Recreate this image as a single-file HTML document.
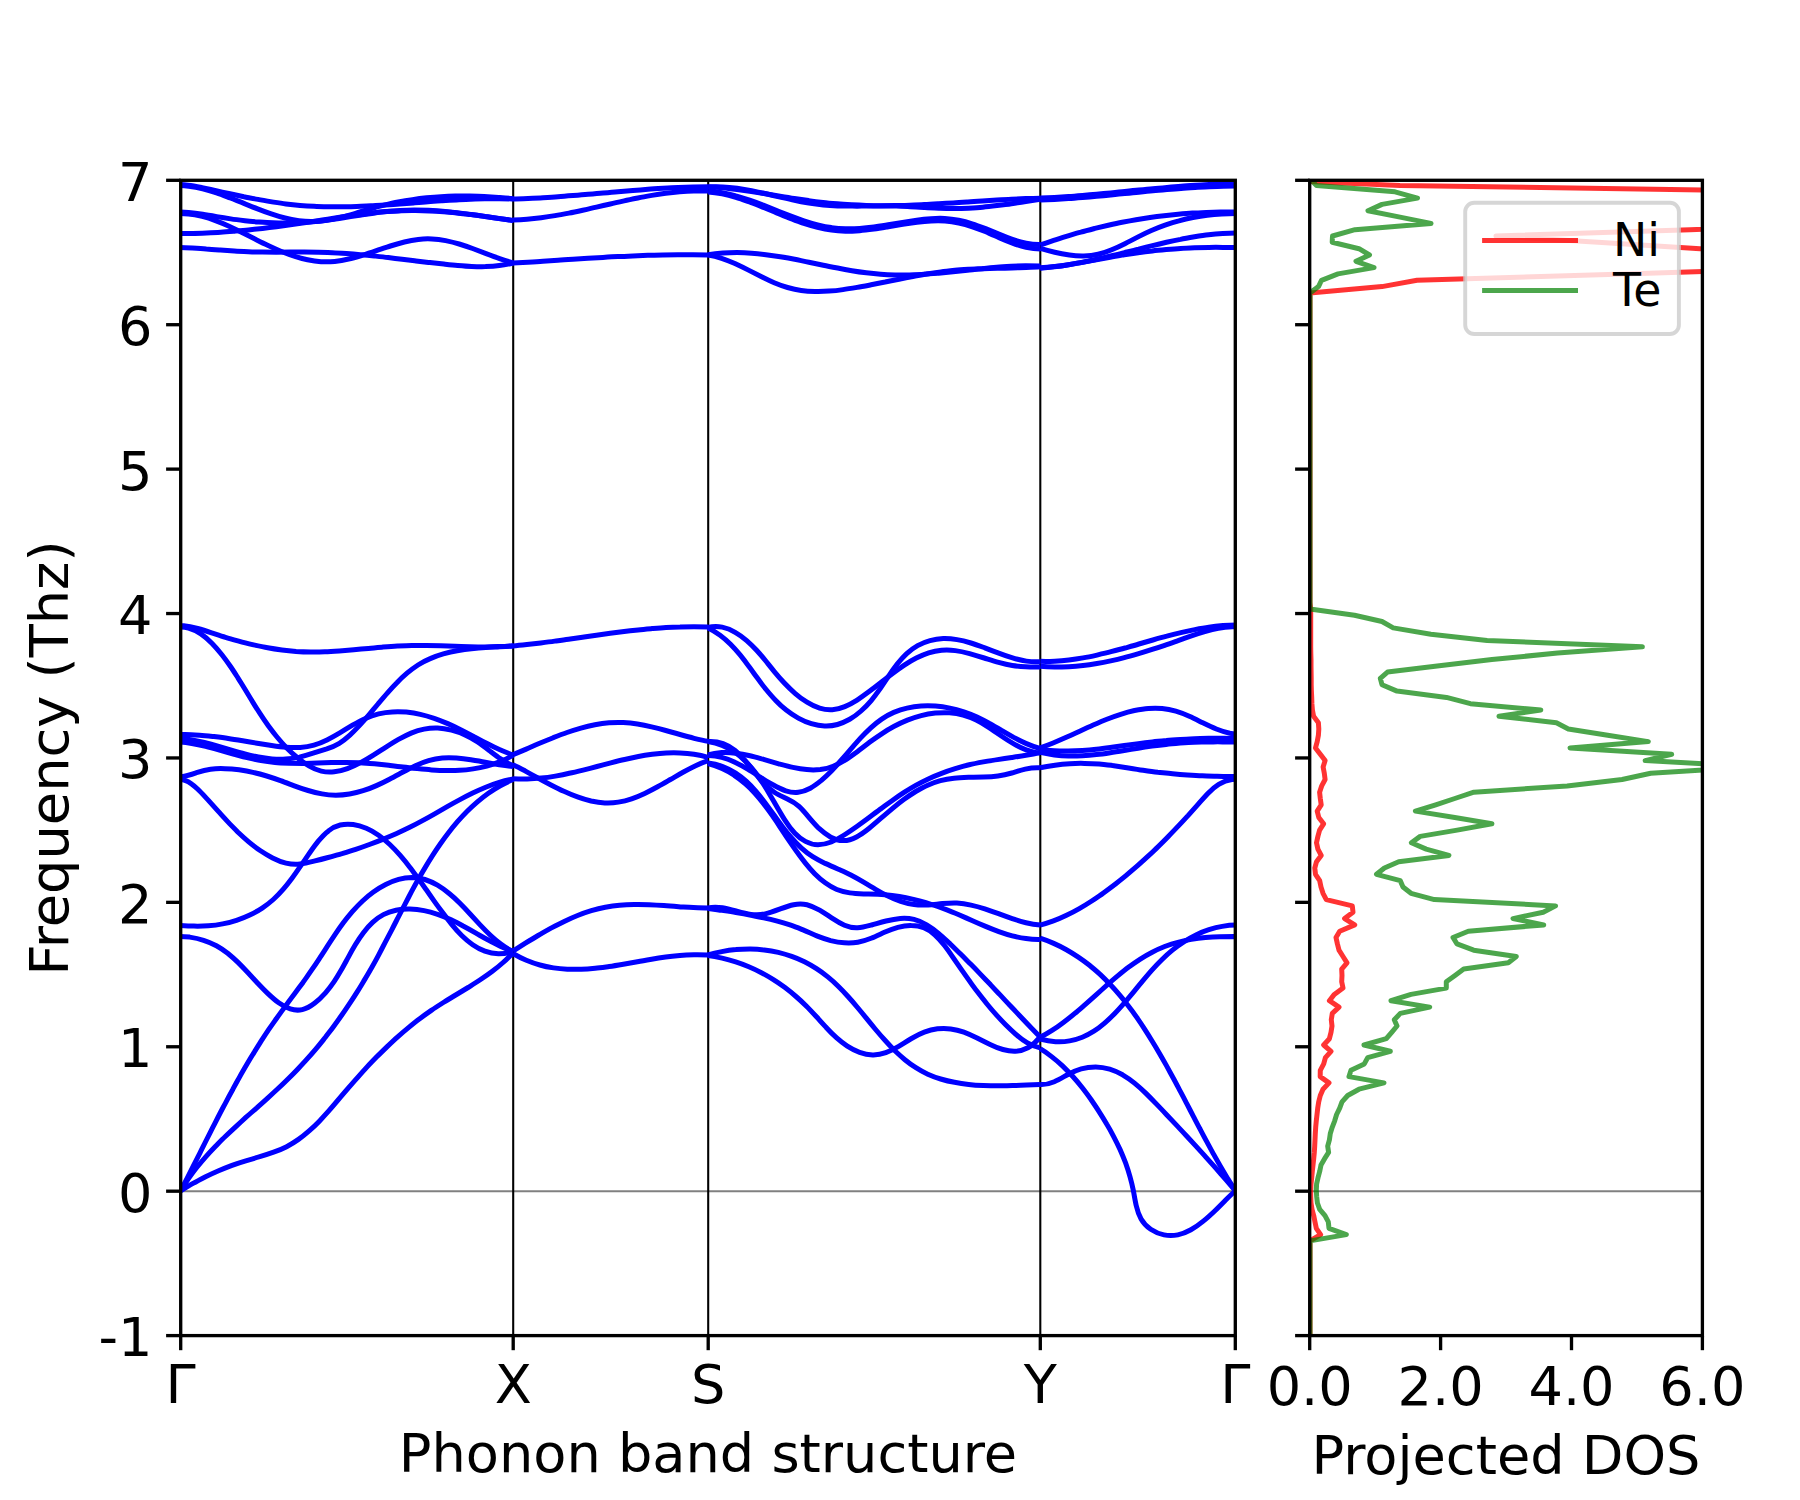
<!DOCTYPE html>
<html lang="en"><head><meta charset="utf-8"><title>Phonon band structure</title>
<style>html,body{margin:0;padding:0;background:#fff}body{width:1800px;height:1500px;overflow:hidden}svg text{white-space:pre}</style>
</head><body>
<svg width="1800" height="1500" viewBox="0 0 1800 1500" style="display:block">
<rect width="1800" height="1500" fill="#fff"/>
<defs>
<clipPath id="ca"><rect x="180.7" y="180.3" width="1054.6" height="1155.3"/></clipPath>
<clipPath id="cb"><rect x="1309.7" y="180.3" width="392.70000000000005" height="1155.3"/></clipPath>
</defs>
<g clip-path="url(#ca)" fill="none">
<line x1="180.7" x2="1235.3" y1="1191.19" y2="1191.19" stroke="#808080" stroke-width="2.08"/>
<line x1="513.2" x2="513.2" y1="180.3" y2="1335.6" stroke="#000" stroke-width="2.08"/>
<line x1="708.2" x2="708.2" y1="180.3" y2="1335.6" stroke="#000" stroke-width="2.08"/>
<line x1="1040.3" x2="1040.3" y1="180.3" y2="1335.6" stroke="#000" stroke-width="2.08"/>
<g stroke="#0000ff" stroke-width="5.0" stroke-linejoin="round" stroke-linecap="butt">
<path d="M146.3,189.3C151.0,187.5 155.7,186.2 160.4,185.4C165.1,184.6 169.7,184.3 174.4,184.3C179.0,184.3 183.6,184.7 188.3,185.3C192.9,185.8 197.5,186.7 202.2,187.6C206.8,188.5 211.4,189.6 216.1,190.6C220.7,191.7 225.3,192.7 230.0,193.7C234.6,194.7 239.2,195.7 243.9,196.7C248.6,197.6 253.2,198.6 257.9,199.4C262.5,200.3 267.2,201.1 271.9,201.9C276.6,202.6 281.2,203.3 285.9,203.9C290.6,204.5 295.3,205.0 300.0,205.4C304.7,205.8 309.4,206.1 314.1,206.3C318.9,206.6 323.6,206.7 328.3,206.8C333.0,206.8 337.8,206.8 342.5,206.8C347.2,206.7 352.0,206.6 356.7,206.4C361.5,206.3 366.2,206.0 370.9,205.8C375.7,205.5 380.4,205.3 385.2,204.9C390.0,204.6 394.7,204.3 399.5,203.9C404.2,203.6 409.0,203.2 413.7,202.9C418.5,202.5 423.2,202.1 428.0,201.8C432.7,201.4 437.5,201.1 442.2,200.8C447.0,200.4 451.7,200.1 456.5,199.9C461.2,199.6 466.0,199.4 470.7,199.2C475.4,199.0 480.2,198.8 484.9,198.8C489.6,198.7 494.3,198.6 499.1,198.7C503.8,198.7 508.5,198.8 513.2,199.0"/>
<path d="M146.2,191.3C151.0,189.4 155.8,187.9 160.6,187.0C165.3,186.0 170.1,185.5 174.8,185.4C179.5,185.3 184.1,185.6 188.8,186.2C193.4,186.8 198.1,187.7 202.7,188.9C207.3,190.0 211.9,191.4 216.5,192.9C221.1,194.5 225.6,196.2 230.2,197.9C234.8,199.7 239.3,201.6 243.9,203.4C248.4,205.3 253.0,207.1 257.6,208.9C262.1,210.7 266.7,212.4 271.3,213.9C275.9,215.5 280.4,216.9 285.0,218.0C289.6,219.2 294.3,220.1 298.9,220.8C303.5,221.4 308.2,221.7 312.9,221.6C317.6,221.6 322.3,221.1 327.0,220.3C331.7,219.6 336.5,218.5 341.3,217.3C346.0,216.1 350.8,214.7 355.5,213.3C360.3,211.9 365.1,210.4 369.8,209.0C374.6,207.6 379.3,206.3 384.0,205.1C388.7,204.0 393.5,202.9 398.2,202.0C402.9,201.1 407.6,200.3 412.4,199.6C417.1,198.9 421.8,198.3 426.6,197.8C431.4,197.3 436.1,196.9 440.9,196.7C445.7,196.4 450.5,196.2 455.3,196.1C460.1,196.0 464.9,196.0 469.7,196.1C474.6,196.2 479.4,196.3 484.2,196.5C489.0,196.8 493.9,197.1 498.7,197.4C503.5,197.8 508.4,198.2 513.2,198.7"/>
<path d="M146.4,215.0C151.1,213.8 155.8,213.0 160.5,212.5C165.1,212.0 169.8,211.8 174.5,211.8C179.2,211.9 183.9,212.1 188.6,212.6C193.3,213.0 198.0,213.6 202.7,214.3C207.3,215.0 212.0,215.8 216.7,216.6C221.4,217.4 226.1,218.1 230.8,218.9C235.5,219.6 240.2,220.2 244.9,220.8C249.6,221.3 254.3,221.7 259.0,222.1C263.7,222.4 268.4,222.7 273.1,222.8C277.9,223.0 282.6,223.0 287.3,223.0C292.0,222.9 296.7,222.8 301.4,222.5C306.1,222.2 310.8,221.9 315.5,221.4C320.2,221.0 324.9,220.4 329.6,219.7C334.3,219.1 339.0,218.4 343.7,217.7C348.4,217.0 353.1,216.2 357.8,215.5C362.5,214.8 367.2,214.0 371.9,213.4C376.6,212.7 381.3,212.1 386.0,211.6C390.7,211.1 395.4,210.6 400.1,210.4C404.9,210.1 409.6,209.9 414.3,209.9C419.0,209.9 423.7,210.0 428.4,210.2C433.1,210.5 437.8,210.8 442.6,211.2C447.3,211.6 452.0,212.1 456.7,212.7C461.4,213.2 466.1,213.9 470.8,214.5C475.5,215.1 480.3,215.8 485.0,216.5C489.7,217.2 494.4,217.9 499.1,218.6C503.8,219.2 508.5,219.9 513.2,220.5"/>
<path d="M136.2,231.2C141.0,231.7 145.7,232.1 150.4,232.4C155.1,232.7 159.8,233.0 164.4,233.2C169.1,233.3 173.8,233.5 178.5,233.5C183.2,233.5 187.9,233.5 192.6,233.4C197.2,233.4 201.9,233.2 206.6,233.0C211.3,232.8 215.9,232.6 220.6,232.3C225.3,232.0 229.9,231.6 234.6,231.2C239.2,230.8 243.9,230.4 248.5,229.9C253.2,229.4 257.9,228.9 262.5,228.4C267.1,227.8 271.8,227.3 276.4,226.7C281.1,226.1 285.7,225.4 290.4,224.8C295.0,224.1 299.6,223.5 304.3,222.8C308.9,222.1 313.5,221.4 318.1,220.7C322.8,219.9 327.4,219.2 332.0,218.5C336.7,217.8 341.3,217.0 345.9,216.3C350.5,215.7 355.2,215.0 359.8,214.4C364.4,213.8 369.0,213.2 373.7,212.7C378.3,212.2 382.9,211.8 387.6,211.5C392.2,211.2 396.9,210.9 401.5,210.7C406.2,210.6 410.8,210.5 415.5,210.6C420.1,210.6 424.8,210.7 429.4,210.9C434.1,211.1 438.7,211.4 443.4,211.8C448.1,212.1 452.7,212.6 457.4,213.0C462.0,213.5 466.7,214.0 471.4,214.6C476.0,215.2 480.7,215.8 485.3,216.5C490.0,217.1 494.6,217.8 499.3,218.5C503.9,219.2 508.6,219.9 513.2,220.6"/>
<path d="M145.9,219.6C150.7,217.8 155.4,216.4 160.2,215.4C164.9,214.4 169.7,213.8 174.4,213.6C179.1,213.4 183.8,213.5 188.4,214.0C193.1,214.4 197.6,215.3 202.1,216.4C206.6,217.5 211.0,218.9 215.4,220.6C219.8,222.2 224.2,224.0 228.5,226.0C232.8,228.0 237.2,230.1 241.5,232.3C245.8,234.4 250.2,236.6 254.5,238.8C258.9,241.0 263.2,243.2 267.6,245.2C272.0,247.3 276.4,249.3 280.8,251.2C285.2,253.0 289.6,254.7 294.1,256.1C298.5,257.6 303.0,258.8 307.5,259.8C312.0,260.7 316.5,261.4 321.0,261.7C325.6,262.0 330.1,261.9 334.7,261.4C339.3,260.9 343.9,260.1 348.6,259.0C353.2,258.0 357.8,256.6 362.5,255.2C367.1,253.8 371.8,252.2 376.4,250.6C381.1,249.0 385.8,247.5 390.4,246.0C395.1,244.5 399.7,243.2 404.4,242.0C409.0,240.9 413.6,240.0 418.2,239.4C422.9,238.8 427.4,238.6 432.0,238.9C436.6,239.1 441.1,239.7 445.6,240.6C450.1,241.5 454.7,242.6 459.2,244.0C463.6,245.4 468.1,246.9 472.6,248.5C477.1,250.2 481.6,251.9 486.1,253.6C490.6,255.3 495.1,257.0 499.6,258.6C504.1,260.1 508.7,261.6 513.2,262.8"/>
<path d="M136.4,250.0C141.1,249.2 145.7,248.6 150.4,248.2C155.1,247.8 159.7,247.5 164.4,247.4C169.0,247.3 173.7,247.3 178.4,247.4C183.0,247.6 187.7,247.8 192.3,248.0C197.0,248.3 201.7,248.6 206.3,249.0C211.0,249.3 215.6,249.7 220.3,250.1C225.0,250.4 229.6,250.8 234.3,251.1C239.0,251.4 243.6,251.6 248.3,251.8C253.0,252.0 257.7,252.1 262.3,252.1C267.0,252.2 271.7,252.2 276.3,252.2C281.0,252.2 285.7,252.2 290.4,252.1C295.0,252.1 299.7,252.1 304.4,252.1C309.1,252.1 313.7,252.2 318.4,252.3C323.1,252.3 327.7,252.5 332.4,252.7C337.0,252.9 341.7,253.2 346.4,253.5C351.0,253.9 355.7,254.3 360.3,254.7C365.0,255.1 369.6,255.6 374.3,256.0C378.9,256.5 383.6,257.0 388.2,257.6C392.8,258.1 397.5,258.7 402.1,259.2C406.8,259.8 411.4,260.3 416.0,260.9C420.7,261.5 425.3,262.0 429.9,262.6C434.6,263.1 439.2,263.6 443.8,264.1C448.5,264.6 453.1,265.1 457.7,265.5C462.3,265.9 467.0,266.3 471.6,266.4C476.2,266.6 480.8,266.7 485.5,266.6C490.1,266.4 494.7,266.1 499.3,265.5C504.0,265.0 508.6,264.1 513.2,263.0"/>
<path d="M141.3,635.3C145.9,632.6 150.6,630.4 155.4,628.8C160.1,627.2 164.8,626.2 169.5,625.7C174.3,625.2 179.0,625.2 183.7,625.8C188.3,626.3 193.0,627.3 197.7,628.5C202.3,629.8 207.0,631.3 211.6,632.8C216.2,634.3 220.9,635.9 225.5,637.3C230.2,638.8 234.9,640.1 239.5,641.4C244.2,642.7 248.9,643.8 253.6,644.9C258.3,645.9 263.0,646.9 267.7,647.7C272.4,648.6 277.2,649.3 281.9,649.9C286.6,650.5 291.4,651.0 296.1,651.4C300.9,651.7 305.7,651.9 310.5,652.0C315.3,652.1 320.1,652.0 324.9,651.8C329.7,651.6 334.5,651.3 339.3,651.0C344.2,650.6 349.0,650.2 353.8,649.8C358.7,649.3 363.5,648.9 368.4,648.4C373.2,647.9 378.1,647.5 382.9,647.1C387.7,646.7 392.6,646.3 397.4,646.0C402.3,645.8 407.1,645.6 411.9,645.5C416.7,645.4 421.6,645.4 426.4,645.5C431.2,645.6 436.0,645.7 440.8,645.8C445.6,646.0 450.4,646.1 455.2,646.3C460.0,646.5 464.9,646.6 469.7,646.7C474.5,646.8 479.3,646.9 484.1,646.9C489.0,646.9 493.8,646.8 498.6,646.6C503.5,646.4 508.3,646.1 513.2,645.7"/>
<path d="M141.5,653.4C143.9,649.4 146.9,645.5 150.4,641.9C153.8,638.3 157.8,635.0 162.0,632.5C166.2,630.0 170.6,628.2 175.1,627.5C179.6,626.7 184.1,626.9 188.5,628.0C192.8,629.2 197.0,631.2 200.9,633.9C204.9,636.6 208.6,639.9 212.1,643.5C215.6,647.1 218.9,651.0 221.9,654.8C224.9,658.7 227.8,662.6 230.5,666.5C233.2,670.4 235.7,674.4 238.2,678.3C240.7,682.3 243.1,686.3 245.6,690.3C248.0,694.3 250.4,698.3 252.9,702.3C255.3,706.3 257.8,710.2 260.4,714.2C262.9,718.1 265.6,722.0 268.3,725.8C271.1,729.6 273.9,733.3 277.0,737.0C280.0,740.6 283.1,744.2 286.5,747.7C289.9,751.1 293.4,754.4 297.2,757.5C300.9,760.7 304.8,763.6 308.9,765.9C312.9,768.3 317.1,770.1 321.3,771.1C325.6,772.1 329.9,772.3 334.2,771.8C338.6,771.3 343.0,770.2 347.4,768.6C351.8,767.0 356.2,765.0 360.5,762.6C364.9,760.3 369.2,757.8 373.4,755.1C377.7,752.5 381.8,749.7 386.0,747.1C390.2,744.4 394.3,741.8 398.5,739.4C402.7,737.1 406.9,734.9 411.1,733.1C415.4,731.3 419.7,729.9 424.1,729.1C428.6,728.2 433.1,727.8 437.7,728.0C442.3,728.2 446.9,729.0 451.5,730.1C456.1,731.3 460.6,732.9 465.0,734.9C469.4,736.9 473.6,739.2 477.6,741.9C481.6,744.6 485.4,747.5 489.2,750.4C493.0,753.3 496.8,756.3 500.7,758.9C504.6,761.5 508.7,763.8 513.2,765.5"/>
<path d="M156.5,736.1C161.3,735.4 166.1,735.0 170.9,734.7C175.6,734.5 180.4,734.4 185.2,734.5C190.0,734.6 194.8,734.9 199.6,735.2C204.4,735.6 209.1,736.1 213.9,736.6C218.7,737.2 223.5,737.8 228.3,738.5C233.1,739.2 237.9,740.0 242.7,740.8C247.5,741.6 252.3,742.4 257.1,743.2C261.9,744.0 266.8,744.8 271.6,745.5C276.4,746.2 281.2,746.9 286.0,747.2C290.8,747.6 295.5,747.7 300.2,747.5C304.8,747.2 309.4,746.5 313.9,745.2C318.3,743.9 322.7,742.1 327.0,740.0C331.3,737.8 335.6,735.4 339.8,732.9C344.0,730.3 348.3,727.7 352.5,725.2C356.7,722.8 361.0,720.4 365.4,718.5C369.7,716.5 374.1,715.0 378.6,713.9C383.1,712.8 387.7,712.1 392.3,711.9C396.9,711.6 401.6,711.7 406.3,712.1C410.9,712.6 415.6,713.3 420.3,714.4C424.9,715.4 429.6,716.8 434.2,718.3C438.8,719.9 443.3,721.7 447.8,723.6C452.3,725.6 456.7,727.7 461.1,729.9C465.5,732.2 469.8,734.5 474.1,736.8C478.5,739.0 482.8,741.3 487.1,743.5C491.4,745.8 495.7,747.9 500.0,749.8C504.4,751.7 508.8,753.5 513.2,755.0"/>
<path d="M136.0,747.5C140.7,745.0 145.3,743.1 149.9,741.7C154.5,740.2 159.1,739.3 163.6,738.8C168.2,738.2 172.7,738.1 177.3,738.3C181.8,738.5 186.4,739.0 190.9,739.7C195.4,740.4 199.9,741.4 204.4,742.5C208.9,743.6 213.4,744.8 217.9,746.1C222.4,747.4 226.9,748.8 231.4,750.1C235.9,751.4 240.4,752.7 244.9,753.9C249.4,755.1 253.9,756.2 258.5,757.0C263.0,757.9 267.5,758.5 272.0,758.9C276.6,759.3 281.1,759.4 285.7,759.1C290.2,758.8 294.8,758.1 299.4,757.1C303.9,756.0 308.5,754.6 313.1,753.1C317.7,751.7 322.3,750.3 326.8,748.9C331.3,747.4 335.5,745.6 339.3,743.3C343.1,740.9 346.6,738.1 349.9,735.1C353.2,732.1 356.4,728.8 359.6,725.4C362.7,722.0 365.8,718.5 368.9,714.9C371.9,711.3 375.0,707.6 378.0,704.0C381.1,700.3 384.1,696.7 387.3,693.1C390.4,689.5 393.6,686.0 396.9,682.7C400.1,679.3 403.5,676.2 407.0,673.2C410.5,670.2 414.2,667.5 418.0,665.0C421.9,662.5 425.9,660.4 430.2,658.6C434.4,656.7 438.8,655.2 443.3,653.9C447.8,652.7 452.5,651.6 457.2,650.8C461.9,650.0 466.7,649.3 471.5,648.8C476.3,648.3 481.1,647.9 485.8,647.6C490.5,647.2 495.2,647.0 499.8,646.7C504.4,646.5 508.9,646.3 513.2,646.0"/>
<path d="M136.2,751.5C140.9,748.8 145.5,746.7 150.2,745.2C154.8,743.7 159.5,742.7 164.1,742.2C168.7,741.6 173.3,741.6 178.0,741.8C182.6,742.1 187.2,742.7 191.8,743.5C196.4,744.3 201.0,745.3 205.6,746.4C210.3,747.5 214.9,748.8 219.5,750.1C224.1,751.4 228.7,752.7 233.3,754.0C237.9,755.2 242.5,756.5 247.1,757.6C251.8,758.7 256.4,759.8 261.0,760.6C265.7,761.4 270.3,762.0 275.0,762.5C279.6,762.9 284.3,763.1 289.0,763.3C293.7,763.4 298.4,763.4 303.1,763.4C307.8,763.3 312.5,763.2 317.3,763.0C322.0,762.9 326.7,762.7 331.5,762.6C336.2,762.5 341.0,762.4 345.7,762.4C350.5,762.4 355.2,762.5 360.0,762.8C364.8,763.0 369.6,763.4 374.4,763.8C379.1,764.3 383.9,764.8 388.7,765.3C393.5,765.9 398.2,766.5 403.0,767.0C407.8,767.6 412.5,768.1 417.3,768.6C422.0,769.1 426.7,769.6 431.5,769.9C436.2,770.2 440.9,770.5 445.5,770.5C450.2,770.6 454.8,770.6 459.5,770.3C464.1,770.1 468.7,769.6 473.2,768.9C477.8,768.2 482.3,767.3 486.8,766.1C491.3,764.9 495.7,763.5 500.1,761.6C504.5,759.8 508.9,757.7 513.2,755.2"/>
<path d="M141.4,768.3C146.4,767.3 151.2,768.1 155.8,769.4C160.5,770.8 165.1,772.8 169.6,774.3C174.1,775.8 178.5,776.8 183.0,776.4C187.4,775.9 191.9,774.3 196.5,772.7C201.1,771.1 205.8,769.7 210.6,769.2C215.4,768.6 220.2,768.5 225.0,768.7C229.7,768.8 234.4,769.2 239.1,769.8C243.7,770.5 248.3,771.3 252.9,772.4C257.5,773.4 262.1,774.6 266.7,776.0C271.3,777.4 275.9,779.0 280.5,780.7C285.1,782.3 289.7,784.1 294.3,785.8C298.9,787.5 303.5,789.1 308.1,790.5C312.7,791.9 317.4,793.1 322.0,793.9C326.6,794.8 331.2,795.2 335.8,795.2C340.4,795.2 344.9,794.8 349.5,794.0C354.0,793.2 358.6,792.1 363.1,790.7C367.5,789.3 372.0,787.6 376.4,785.6C380.8,783.7 385.2,781.5 389.5,779.2C393.9,777.0 398.2,774.6 402.5,772.3C406.8,770.0 411.1,767.7 415.4,765.7C419.8,763.7 424.2,762.0 428.6,760.7C433.1,759.4 437.7,758.5 442.3,758.1C447.0,757.7 451.7,757.8 456.5,758.1C461.2,758.4 466.0,759.0 470.8,759.8C475.7,760.6 480.5,761.4 485.2,762.3C490.0,763.2 494.8,764.1 499.4,764.9C504.1,765.6 508.7,766.2 513.2,766.5"/>
<path d="M141.4,813.1C144.4,811.5 147.6,808.1 151.0,804.0C154.4,799.9 158.1,795.1 161.8,790.9C165.6,786.7 169.5,783.0 173.5,781.1C177.5,779.2 181.6,779.1 185.6,780.6C189.6,782.1 193.5,785.2 197.3,788.8C201.1,792.3 204.7,796.4 208.2,800.1C211.6,803.9 214.9,807.6 218.1,811.2C221.4,814.8 224.6,818.4 227.9,821.9C231.2,825.4 234.6,828.8 238.0,832.2C241.5,835.5 245.0,838.7 248.7,841.8C252.4,844.9 256.2,847.8 260.1,850.5C264.1,853.2 268.3,855.7 272.6,857.9C276.9,860.1 281.4,862.0 286.0,863.1C290.6,864.2 295.3,864.6 300.0,864.0C304.6,863.5 309.4,862.3 314.0,861.1C318.7,860.0 323.4,858.8 328.1,857.5C332.7,856.3 337.3,854.9 342.0,853.6C346.6,852.2 351.2,850.8 355.7,849.3C360.3,847.8 364.9,846.2 369.4,844.5C373.9,842.9 378.4,841.2 382.8,839.4C387.3,837.6 391.7,835.7 396.1,833.8C400.5,831.8 404.9,829.7 409.2,827.6C413.5,825.5 417.8,823.2 422.0,820.9C426.2,818.6 430.5,816.2 434.7,813.8C438.8,811.4 443.0,809.0 447.2,806.6C451.4,804.2 455.6,801.9 459.9,799.6C464.1,797.3 468.4,795.1 472.7,793.0C477.0,790.9 481.3,789.0 485.7,787.2C490.2,785.4 494.6,783.8 499.2,782.4C503.8,781.0 508.4,779.9 513.2,779.0"/>
<path d="M180.7,1190.8C183.1,1186.7 185.6,1182.7 188.3,1178.8C191.0,1175.0 193.8,1171.2 196.7,1167.5C199.6,1163.9 202.6,1160.3 205.7,1156.8C208.8,1153.2 212.0,1149.8 215.3,1146.4C218.6,1143.1 221.9,1139.7 225.3,1136.5C228.7,1133.2 232.1,1130.0 235.6,1126.8C239.1,1123.6 242.6,1120.4 246.1,1117.2C249.7,1114.1 253.2,1110.9 256.8,1107.8C260.3,1104.6 263.9,1101.5 267.4,1098.3C270.9,1095.2 274.4,1092.0 277.8,1088.8C281.3,1085.6 284.7,1082.3 288.0,1079.0C291.4,1075.7 294.7,1072.4 297.9,1069.0C301.1,1065.6 304.3,1062.2 307.4,1058.7C310.5,1055.2 313.6,1051.7 316.6,1048.1C319.6,1044.6 322.5,1040.9 325.4,1037.3C328.2,1033.6 331.1,1029.9 333.8,1026.2C336.6,1022.4 339.3,1018.6 342.0,1014.8C344.7,1011.0 347.3,1007.1 349.9,1003.2C352.5,999.3 355.0,995.4 357.5,991.4C360.0,987.5 362.4,983.4 364.8,979.4C367.2,975.4 369.5,971.3 371.9,967.2C374.2,963.1 376.5,959.0 378.7,954.8C380.9,950.6 383.1,946.4 385.3,942.2C387.5,938.0 389.7,933.8 391.9,929.6C394.0,925.4 396.2,921.2 398.4,916.9C400.5,912.7 402.7,908.5 404.9,904.3C407.1,900.1 409.3,895.9 411.5,891.7C413.7,887.6 416.0,883.4 418.3,879.3C420.6,875.2 423.0,871.1 425.4,867.1C427.8,863.0 430.3,859.0 432.8,855.1C435.3,851.2 437.9,847.3 440.6,843.5C443.3,839.6 446.0,835.9 448.9,832.2C451.7,828.5 454.7,824.9 457.7,821.4C460.8,817.9 463.9,814.5 467.2,811.2C470.5,807.9 473.9,804.8 477.4,801.8C480.9,798.8 484.6,795.9 488.4,793.2C492.2,790.6 496.2,788.1 500.3,785.8C504.4,783.5 508.7,781.4 513.2,779.5"/>
<path d="M136.4,924.8C141.2,924.3 145.9,924.1 150.7,924.1C155.5,924.1 160.2,924.2 165.0,924.5C169.8,924.8 174.7,925.1 179.5,925.4C184.3,925.7 189.1,926.0 193.9,926.1C198.7,926.2 203.5,926.1 208.3,925.8C213.1,925.5 217.9,924.9 222.6,923.9C227.3,923.0 232.0,921.8 236.5,920.3C241.1,918.8 245.5,917.1 249.8,915.0C254.1,913.0 258.3,910.7 262.2,908.1C266.1,905.5 269.8,902.6 273.3,899.5C276.7,896.4 280.0,893.0 283.1,889.4C286.2,885.8 289.1,882.1 292.0,878.2C294.9,874.3 297.7,870.2 300.5,866.1C303.4,862.0 306.2,857.8 309.1,853.6C312.1,849.4 315.1,845.1 318.3,841.2C321.5,837.3 324.8,833.7 328.5,830.9C332.1,828.0 336.0,826.0 340.2,825.0C344.4,824.0 348.8,823.9 353.2,824.5C357.7,825.1 362.1,826.5 366.3,828.3C370.6,830.1 374.7,832.5 378.6,835.3C382.5,838.0 386.2,841.2 389.8,844.5C393.4,847.9 396.9,851.6 400.2,855.4C403.4,859.1 406.6,863.0 409.6,866.9C412.6,870.8 415.4,874.7 418.2,878.5C421.0,882.3 423.6,886.0 426.3,889.8C428.9,893.6 431.5,897.3 434.2,901.1C436.9,904.9 439.7,908.7 442.6,912.6C445.5,916.5 448.5,920.4 451.7,924.3C454.8,928.2 458.2,931.9 461.7,935.4C465.2,938.8 468.9,942.0 472.7,944.7C476.6,947.4 480.7,949.6 484.9,951.2C489.2,952.8 493.6,953.7 498.3,953.8C503.0,953.9 507.9,953.2 513.0,951.5"/>
<path d="M136.8,952.6C140.1,949.2 143.9,946.4 148.0,944.1C152.1,941.9 156.5,940.1 161.1,938.9C165.6,937.7 170.4,936.9 175.2,936.6C180.0,936.3 184.9,936.5 189.7,937.1C194.4,937.8 199.1,938.8 203.6,940.3C208.1,941.7 212.4,943.6 216.4,945.8C220.4,948.0 224.1,950.5 227.7,953.3C231.2,956.2 234.7,959.2 238.0,962.4C241.3,965.7 244.5,969.0 247.8,972.5C251.0,976.0 254.2,979.5 257.5,983.0C260.8,986.5 264.2,990.0 267.7,993.4C271.3,996.8 274.9,1000.1 278.7,1002.8C282.5,1005.5 286.3,1007.6 290.3,1008.9C294.2,1010.2 298.3,1010.5 302.3,1009.6C306.4,1008.7 310.6,1006.3 314.5,1003.3C318.5,1000.3 322.2,996.6 325.5,992.9C328.7,989.2 331.5,985.5 334.1,981.7C336.6,978.0 338.9,974.1 341.2,970.1C343.5,966.1 345.8,961.8 348.1,957.6C350.4,953.3 352.8,949.0 355.3,944.8C357.9,940.6 360.5,936.6 363.4,932.8C366.2,929.0 369.3,925.4 372.6,922.4C375.9,919.3 379.5,916.6 383.4,914.6C387.3,912.5 391.6,911.1 396.0,910.2C400.5,909.3 405.2,909.0 409.9,909.1C414.6,909.2 419.4,909.7 424.1,910.6C428.7,911.5 433.2,912.8 437.6,914.3C442.0,915.8 446.3,917.6 450.6,919.6C454.8,921.6 459.0,923.7 463.1,926.0C467.3,928.2 471.4,930.5 475.5,932.9C479.6,935.2 483.6,937.5 487.8,939.8C491.9,942.0 496.0,944.2 500.2,946.2C504.4,948.1 508.7,949.9 513.0,951.5"/>
<path d="M180.7,1190.8C182.9,1186.6 185.0,1182.4 187.2,1178.2C189.3,1174.0 191.4,1169.8 193.6,1165.5C195.7,1161.3 197.9,1157.0 200.0,1152.8C202.1,1148.5 204.3,1144.3 206.4,1140.0C208.6,1135.7 210.7,1131.5 212.9,1127.2C215.1,1123.0 217.2,1118.7 219.4,1114.5C221.6,1110.2 223.9,1106.0 226.1,1101.8C228.3,1097.5 230.6,1093.3 232.9,1089.2C235.1,1085.0 237.5,1080.8 239.8,1076.6C242.1,1072.5 244.5,1068.4 246.9,1064.3C249.3,1060.2 251.8,1056.1 254.3,1052.1C256.7,1048.0 259.3,1044.0 261.8,1040.0C264.4,1036.1 267.0,1032.1 269.7,1028.2C272.3,1024.3 275.1,1020.5 277.8,1016.6C280.6,1012.8 283.3,1009.0 286.1,1005.2C288.9,1001.4 291.7,997.6 294.6,993.8C297.4,990.0 300.2,986.2 303.0,982.4C305.7,978.5 308.5,974.7 311.2,970.7C313.9,966.8 316.6,962.8 319.2,958.8C321.9,954.8 324.5,950.7 327.1,946.7C329.7,942.6 332.3,938.6 335.0,934.6C337.7,930.6 340.5,926.6 343.3,922.8C346.2,918.9 349.2,915.2 352.3,911.6C355.5,908.0 358.8,904.5 362.3,901.2C365.8,897.9 369.5,894.8 373.4,892.0C377.4,889.2 381.5,886.6 385.7,884.5C389.9,882.4 394.2,880.6 398.6,879.4C403.0,878.2 407.4,877.6 411.8,877.5C416.2,877.5 420.6,878.2 424.9,879.5C429.2,880.9 433.4,882.8 437.5,885.2C441.5,887.6 445.4,890.4 449.2,893.5C452.9,896.5 456.5,899.8 459.9,903.3C463.4,906.8 466.8,910.4 470.1,914.0C473.5,917.7 476.8,921.3 480.1,924.9C483.5,928.5 486.9,932.0 490.4,935.3C493.8,938.5 497.4,941.6 501.2,944.3C504.9,947.1 508.8,949.5 513.0,951.5"/>
<path d="M180.7,1190.8C184.8,1188.3 188.9,1185.8 193.0,1183.4C197.2,1181.1 201.4,1178.9 205.6,1176.7C209.9,1174.6 214.2,1172.6 218.6,1170.7C223.0,1168.8 227.5,1167.0 232.0,1165.3C236.5,1163.7 241.1,1162.2 245.8,1160.8C250.5,1159.4 255.2,1158.0 259.8,1156.7C264.5,1155.3 269.1,1153.8 273.6,1152.2C278.1,1150.6 282.5,1148.8 286.6,1146.7C290.8,1144.5 294.7,1142.1 298.5,1139.4C302.3,1136.8 305.9,1133.8 309.4,1130.7C312.9,1127.6 316.3,1124.3 319.6,1120.9C322.8,1117.5 326.0,1114.0 329.2,1110.4C332.4,1106.8 335.5,1103.1 338.6,1099.4C341.7,1095.7 344.8,1092.1 348.0,1088.4C351.1,1084.8 354.3,1081.1 357.5,1077.6C360.7,1074.0 363.9,1070.4 367.1,1066.9C370.4,1063.4 373.7,1060.0 377.0,1056.6C380.4,1053.2 383.8,1049.9 387.2,1046.6C390.7,1043.3 394.1,1040.1 397.7,1036.9C401.2,1033.7 404.8,1030.6 408.5,1027.6C412.2,1024.6 415.9,1021.6 419.7,1018.8C423.5,1015.9 427.4,1013.1 431.3,1010.4C435.2,1007.7 439.3,1005.1 443.4,1002.5C447.4,1000.0 451.6,997.5 455.7,995.0C459.8,992.5 464.0,990.0 468.1,987.5C472.2,984.9 476.2,982.4 480.2,979.7C484.2,977.1 488.2,974.4 492.0,971.5C495.8,968.7 499.5,965.7 503.1,962.5C506.6,959.4 510.0,956.0 513.2,952.5"/>
<path d="M512.9,198.9C517.9,198.8 523.0,198.6 528.0,198.4C533.0,198.2 538.0,198.0 543.0,197.7C548.0,197.4 553.0,197.1 558.0,196.7C563.0,196.4 568.0,196.0 573.0,195.6C578.0,195.2 583.0,194.8 588.0,194.3C593.0,193.9 598.0,193.5 603.0,193.0C608.0,192.6 613.0,192.2 618.0,191.7C622.9,191.3 627.9,190.9 632.9,190.5C637.9,190.1 642.9,189.7 647.9,189.3C652.9,188.9 657.9,188.6 662.9,188.3C667.9,188.0 672.9,187.7 677.9,187.5C682.9,187.3 688.0,187.1 693.0,186.9C698.0,186.8 703.0,186.7 708.0,186.7"/>
<path d="M512.9,219.9C517.7,219.8 522.4,219.6 527.0,219.2C531.7,218.8 536.4,218.3 541.1,217.7C545.7,217.1 550.4,216.4 555.0,215.6C559.6,214.9 564.3,214.0 568.9,213.1C573.5,212.2 578.1,211.2 582.7,210.2C587.3,209.2 591.9,208.2 596.5,207.1C601.1,206.1 605.7,205.0 610.3,204.0C614.9,202.9 619.5,201.9 624.1,200.9C628.7,199.8 633.3,198.9 637.9,198.0C642.5,197.0 647.1,196.2 651.8,195.4C656.4,194.6 661.0,193.9 665.7,193.3C670.4,192.7 675.0,192.2 679.7,191.8C684.4,191.4 689.1,191.1 693.8,191.0C698.5,190.9 703.3,190.9 708.0,191.1"/>
<path d="M512.9,263.1C517.9,262.8 522.9,262.5 527.9,262.2C532.9,261.9 537.9,261.6 542.9,261.2C547.9,260.9 552.9,260.6 557.9,260.3C562.9,259.9 567.9,259.6 572.9,259.3C577.9,259.0 582.9,258.6 587.9,258.3C592.9,258.0 597.9,257.7 602.9,257.4C607.9,257.1 612.9,256.8 617.9,256.6C622.9,256.3 627.9,256.1 632.9,255.9C637.9,255.7 642.9,255.5 647.9,255.3C652.9,255.1 657.9,255.0 662.9,254.9C667.9,254.8 672.9,254.7 677.9,254.7C683.0,254.6 688.0,254.6 693.0,254.7C698.0,254.7 703.0,254.8 708.0,254.9"/>
<path d="M513.0,646.0C517.6,645.6 522.3,645.1 526.9,644.6C531.6,644.1 536.2,643.5 540.8,643.0C545.5,642.4 550.1,641.8 554.7,641.1C559.3,640.5 564.0,639.9 568.6,639.2C573.2,638.5 577.8,637.9 582.5,637.2C587.1,636.5 591.7,635.9 596.4,635.2C601.0,634.6 605.6,633.9 610.2,633.3C614.9,632.7 619.5,632.1 624.1,631.5C628.8,630.9 633.4,630.4 638.1,629.9C642.7,629.4 647.4,629.0 652.0,628.6C656.7,628.2 661.3,627.8 666.0,627.5C670.6,627.2 675.3,627.0 680.0,626.9C684.6,626.7 689.3,626.7 694.0,626.7C698.7,626.7 703.4,626.8 708.1,626.9"/>
<path d="M513.0,754.7C517.4,752.9 521.8,751.0 526.2,749.1C530.6,747.2 535.1,745.2 539.6,743.3C544.1,741.4 548.7,739.5 553.2,737.7C557.8,735.9 562.4,734.1 567.0,732.5C571.6,730.9 576.3,729.4 580.9,728.1C585.6,726.8 590.2,725.7 594.9,724.8C599.6,723.9 604.3,723.2 609.0,722.8C613.7,722.4 618.5,722.3 623.2,722.5C627.9,722.8 632.7,723.3 637.4,724.0C642.1,724.8 646.9,725.8 651.6,726.9C656.3,728.0 661.1,729.2 665.8,730.5C670.5,731.8 675.2,733.2 680.0,734.5C684.7,735.8 689.4,737.1 694.1,738.3C698.7,739.4 703.4,740.5 708.1,741.3"/>
<path d="M513.0,764.7C516.9,766.5 520.9,768.6 525.0,770.8C529.0,773.1 533.2,775.4 537.5,777.7C541.8,780.1 546.1,782.4 550.5,784.7C554.9,787.0 559.4,789.3 563.9,791.3C568.4,793.4 572.9,795.3 577.5,796.9C582.0,798.6 586.6,799.9 591.1,801.0C595.7,802.0 600.3,802.7 604.8,802.9C609.3,803.1 613.8,802.9 618.3,802.1C622.7,801.4 627.2,800.3 631.6,798.8C636.0,797.3 640.3,795.5 644.7,793.4C649.0,791.4 653.3,789.2 657.6,786.8C661.9,784.5 666.1,782.0 670.4,779.5C674.6,777.1 678.8,774.6 683.0,772.3C687.2,770.0 691.4,767.8 695.6,765.8C699.8,763.8 703.9,762.1 708.1,760.7"/>
<path d="M513.0,778.7C517.7,779.0 522.5,779.1 527.2,779.0C531.9,778.9 536.6,778.6 541.3,778.1C546.0,777.6 550.6,776.9 555.3,776.1C559.9,775.3 564.6,774.4 569.2,773.3C573.9,772.3 578.5,771.2 583.1,770.1C587.7,768.9 592.4,767.7 597.0,766.5C601.6,765.3 606.2,764.1 610.8,762.9C615.4,761.7 620.0,760.5 624.6,759.5C629.2,758.4 633.8,757.4 638.4,756.5C643.0,755.6 647.6,754.9 652.2,754.3C656.9,753.7 661.5,753.2 666.1,753.0C670.7,752.7 675.4,752.7 680.0,752.9C684.7,753.1 689.3,753.5 694.0,754.3C698.7,755.0 703.4,756.0 708.1,757.3"/>
<path d="M512.9,951.2C517.1,948.5 521.2,945.9 525.4,943.2C529.6,940.6 533.8,938.0 538.1,935.5C542.4,932.9 546.7,930.5 551.0,928.1C555.4,925.8 559.8,923.5 564.2,921.4C568.6,919.3 573.1,917.3 577.6,915.5C582.1,913.7 586.7,912.1 591.3,910.7C595.9,909.3 600.6,908.1 605.3,907.2C610.0,906.3 614.8,905.6 619.6,905.2C624.4,904.7 629.3,904.5 634.2,904.5C639.1,904.4 644.0,904.5 648.9,904.7C653.9,904.9 658.8,905.2 663.8,905.6C668.7,905.9 673.7,906.3 678.6,906.7C683.5,907.0 688.5,907.4 693.4,907.6C698.3,907.8 703.2,908.0 708.0,908.0"/>
<path d="M512.9,953.5C517.4,956.1 521.8,958.4 526.3,960.3C530.8,962.2 535.3,963.8 539.9,965.0C544.4,966.3 549.0,967.2 553.6,967.9C558.1,968.6 562.7,969.0 567.3,969.2C572.0,969.4 576.6,969.4 581.2,969.2C585.9,969.1 590.5,968.7 595.2,968.2C599.9,967.8 604.6,967.1 609.2,966.5C613.9,965.8 618.6,965.0 623.3,964.2C628.0,963.4 632.7,962.5 637.4,961.7C642.2,960.8 646.9,960.0 651.6,959.2C656.3,958.4 661.0,957.7 665.7,957.1C670.4,956.4 675.2,955.9 679.9,955.5C684.6,955.0 689.3,954.8 694.0,954.7C698.6,954.6 703.3,954.7 708.0,955.0"/>
<path d="M708.2,186.7C713.0,187.0 717.8,187.3 722.6,187.8C727.4,188.3 732.2,188.9 737.0,189.5C741.8,190.1 746.6,190.8 751.4,191.6C756.1,192.3 760.9,193.1 765.7,193.8C770.5,194.6 775.2,195.4 780.0,196.2C784.8,197.0 789.6,197.8 794.3,198.5C799.1,199.3 803.9,200.0 808.7,200.6C813.4,201.3 818.2,201.9 823.0,202.4C827.8,203.0 832.6,203.4 837.4,203.8C842.2,204.2 847.0,204.5 851.8,204.8C856.6,205.1 861.5,205.3 866.3,205.4C871.1,205.6 875.9,205.7 880.7,205.7C885.6,205.7 890.4,205.7 895.2,205.6C900.1,205.6 904.9,205.4 909.7,205.3C914.6,205.1 919.4,204.9 924.3,204.6C929.1,204.4 933.9,204.1 938.8,203.8C943.6,203.5 948.5,203.2 953.3,202.9C958.1,202.5 963.0,202.2 967.8,201.9C972.7,201.5 977.5,201.2 982.3,200.9C987.2,200.6 992.0,200.3 996.9,200.0C1001.7,199.7 1006.5,199.4 1011.3,199.2C1016.2,199.0 1021.0,198.8 1025.8,198.6C1030.6,198.5 1035.5,198.4 1040.3,198.3"/>
<path d="M708.2,187.1C713.1,186.7 717.9,186.7 722.8,187.0C727.6,187.2 732.4,187.7 737.2,188.3C742.0,189.0 746.8,189.8 751.6,190.7C756.4,191.7 761.2,192.7 765.9,193.8C770.7,194.9 775.4,196.0 780.2,197.1C785.0,198.2 789.7,199.3 794.5,200.3C799.2,201.4 804.0,202.3 808.8,203.1C813.6,203.9 818.4,204.5 823.2,204.9C828.0,205.4 832.8,205.7 837.6,205.9C842.4,206.0 847.3,206.1 852.1,206.1C856.9,206.2 861.8,206.1 866.6,206.1C871.5,206.0 876.3,206.0 881.2,206.0C886.1,206.0 890.9,206.0 895.8,206.1C900.6,206.3 905.5,206.5 910.3,206.8C915.2,207.0 920.0,207.3 924.9,207.6C929.7,207.9 934.6,208.1 939.4,208.3C944.2,208.5 949.1,208.6 953.9,208.6C958.7,208.7 963.5,208.5 968.3,208.3C973.1,208.0 977.9,207.7 982.7,207.2C987.5,206.8 992.3,206.2 997.0,205.6C1001.8,205.0 1006.6,204.4 1011.4,203.7C1016.2,203.0 1021.0,202.3 1025.8,201.5C1030.6,200.8 1035.4,200.0 1040.3,199.3"/>
<path d="M708.2,191.1C712.9,191.3 717.5,191.9 722.1,192.7C726.8,193.5 731.4,194.5 735.9,195.8C740.5,197.0 745.1,198.5 749.6,200.1C754.1,201.6 758.7,203.3 763.2,205.1C767.7,206.9 772.2,208.7 776.7,210.5C781.3,212.3 785.8,214.2 790.3,215.9C794.8,217.6 799.4,219.3 803.9,220.8C808.5,222.3 813.0,223.7 817.6,224.9C822.2,226.0 826.8,227.0 831.5,227.6C836.1,228.3 840.8,228.7 845.5,228.8C850.2,228.9 854.9,228.8 859.7,228.4C864.4,228.1 869.2,227.6 873.9,227.0C878.7,226.3 883.5,225.6 888.2,224.8C893.0,224.0 897.8,223.2 902.5,222.4C907.3,221.6 912.0,220.9 916.8,220.2C921.5,219.5 926.2,219.0 930.9,218.7C935.6,218.3 940.2,218.2 944.8,218.4C949.4,218.7 954.0,219.3 958.6,220.2C963.1,221.1 967.6,222.3 972.1,223.8C976.6,225.2 981.1,226.9 985.6,228.6C990.0,230.4 994.5,232.3 998.9,234.1C1003.4,236.0 1007.9,237.8 1012.4,239.4C1016.9,241.0 1021.5,242.3 1026.1,243.3C1030.7,244.2 1035.5,244.7 1040.3,244.6"/>
<path d="M708.2,191.9C712.8,192.3 717.5,193.0 722.1,193.9C726.7,194.9 731.3,196.1 735.8,197.4C740.4,198.8 744.9,200.4 749.5,202.0C754.0,203.7 758.5,205.5 763.1,207.3C767.6,209.2 772.1,211.1 776.6,212.9C781.1,214.8 785.7,216.6 790.2,218.4C794.7,220.2 799.3,221.8 803.8,223.4C808.4,224.9 812.9,226.2 817.5,227.4C822.1,228.5 826.8,229.5 831.4,230.1C836.1,230.8 840.8,231.1 845.5,231.2C850.2,231.2 854.9,231.0 859.7,230.7C864.4,230.3 869.2,229.7 874.0,229.1C878.8,228.4 883.5,227.6 888.3,226.8C893.1,226.0 897.9,225.2 902.7,224.4C907.4,223.6 912.2,222.9 917.0,222.3C921.7,221.7 926.4,221.2 931.1,220.9C935.8,220.7 940.5,220.6 945.1,221.0C949.7,221.3 954.3,222.0 958.8,223.0C963.4,224.0 967.9,225.3 972.4,226.8C976.9,228.3 981.3,230.0 985.8,231.8C990.2,233.7 994.7,235.6 999.1,237.6C1003.5,239.5 1008.0,241.4 1012.5,243.1C1017.0,244.8 1021.5,246.2 1026.1,247.3C1030.8,248.3 1035.5,248.9 1040.3,248.9"/>
<path d="M708.2,254.7C713.0,253.9 717.8,253.4 722.7,253.1C727.5,252.7 732.3,252.6 737.1,252.6C742.0,252.7 746.8,252.9 751.6,253.2C756.4,253.6 761.1,254.1 765.9,254.7C770.7,255.3 775.5,256.0 780.3,256.8C785.1,257.6 789.8,258.4 794.6,259.3C799.4,260.3 804.2,261.2 808.9,262.2C813.7,263.2 818.5,264.2 823.3,265.2C828.0,266.2 832.8,267.1 837.6,268.0C842.4,269.0 847.1,269.9 851.9,270.7C856.7,271.5 861.5,272.2 866.3,272.8C871.1,273.4 875.8,273.9 880.6,274.3C885.4,274.7 890.2,274.9 895.1,275.0C899.9,275.1 904.7,275.1 909.5,275.0C914.3,274.8 919.1,274.6 924.0,274.3C928.8,274.0 933.6,273.6 938.5,273.2C943.3,272.7 948.1,272.2 953.0,271.7C957.8,271.2 962.7,270.7 967.5,270.2C972.4,269.7 977.2,269.1 982.1,268.7C986.9,268.2 991.8,267.7 996.6,267.3C1001.5,266.9 1006.3,266.6 1011.2,266.3C1016.0,266.1 1020.9,265.9 1025.7,265.8C1030.6,265.8 1035.4,265.8 1040.3,266.0"/>
<path d="M708.2,255.1C712.7,255.8 717.2,256.9 721.6,258.3C726.1,259.8 730.5,261.6 734.9,263.5C739.2,265.5 743.6,267.6 748.0,269.9C752.3,272.1 756.7,274.3 761.1,276.5C765.4,278.7 769.8,280.8 774.2,282.7C778.7,284.6 783.1,286.2 787.6,287.5C792.1,288.8 796.6,289.8 801.2,290.4C805.8,291.1 810.4,291.4 815.0,291.5C819.6,291.6 824.3,291.5 829.0,291.1C833.6,290.8 838.3,290.3 843.0,289.6C847.7,289.0 852.4,288.2 857.1,287.4C861.8,286.6 866.4,285.7 871.1,284.8C875.8,283.8 880.4,282.9 885.1,282.0C889.7,281.0 894.3,280.1 899.0,279.2C903.6,278.2 908.2,277.3 912.9,276.5C917.5,275.6 922.2,274.8 926.8,274.0C931.5,273.2 936.2,272.5 940.8,271.9C945.5,271.3 950.2,270.8 954.9,270.3C959.6,269.9 964.4,269.6 969.1,269.3C973.9,269.0 978.6,268.8 983.4,268.7C988.2,268.5 992.9,268.4 997.7,268.3C1002.5,268.2 1007.2,268.1 1012.0,268.0C1016.7,267.8 1021.5,267.7 1026.2,267.5C1030.9,267.3 1035.6,267.1 1040.3,266.8"/>
<path d="M708.0,627.5C712.9,626.2 717.6,626.2 722.2,627.1C726.7,628.0 731.1,629.9 735.2,632.3C739.3,634.6 743.2,637.6 746.7,640.6C750.2,643.7 753.5,646.9 756.6,650.3C759.7,653.7 762.7,657.2 765.6,660.8C768.5,664.4 771.4,668.1 774.5,671.8C777.5,675.4 780.7,679.1 784.1,682.8C787.5,686.4 791.1,690.0 795.0,693.3C798.8,696.6 802.8,699.7 807.0,702.2C811.1,704.8 815.3,706.8 819.6,708.1C823.8,709.4 828.1,710.0 832.3,709.7C836.5,709.4 840.7,708.3 844.8,706.6C848.9,704.9 853.0,702.7 857.1,700.1C861.1,697.5 865.1,694.6 869.1,691.6C873.1,688.6 877.0,685.6 880.9,682.5C884.8,679.5 888.7,676.4 892.6,673.5C896.5,670.6 900.4,667.8 904.3,665.2C908.2,662.6 912.2,660.2 916.3,658.1C920.3,656.1 924.4,654.3 928.7,652.9C932.9,651.6 937.2,650.7 941.6,650.2C946.1,649.8 950.6,649.9 955.3,650.6C960.0,651.2 964.8,652.3 969.6,653.6C974.5,654.9 979.3,656.4 984.2,658.0C989.0,659.5 993.8,661.1 998.6,662.4C1003.3,663.7 1007.8,664.8 1012.3,665.5C1016.8,666.2 1021.3,666.6 1025.8,666.8C1030.4,667.1 1035.1,667.1 1040.0,667.0"/>
<path d="M708.0,628.0C712.3,630.0 716.3,632.5 720.1,635.2C723.8,637.9 727.3,641.0 730.5,644.3C733.8,647.6 736.9,651.1 739.9,654.7C742.9,658.4 745.8,662.2 748.6,666.1C751.5,669.9 754.3,673.9 757.2,677.8C760.0,681.7 762.9,685.6 765.9,689.3C769.0,693.1 772.1,696.8 775.5,700.2C778.8,703.7 782.3,707.0 786.2,710.0C790.0,713.0 794.0,715.7 798.3,718.1C802.5,720.4 806.9,722.3 811.3,723.7C815.7,725.0 820.1,725.9 824.5,726.0C828.9,726.2 833.3,725.7 837.5,724.5C841.7,723.3 845.8,721.5 849.7,719.3C853.6,717.0 857.4,714.2 861.0,711.0C864.6,707.9 868.0,704.4 871.2,700.6C874.3,696.8 877.3,692.7 880.2,688.6C883.0,684.4 885.8,680.2 888.6,676.1C891.4,671.9 894.3,667.9 897.2,664.1C900.2,660.3 903.3,656.7 906.7,653.6C910.1,650.5 913.7,647.8 917.6,645.6C921.6,643.4 925.7,641.7 930.0,640.6C934.3,639.4 938.8,638.7 943.3,638.5C947.9,638.4 952.4,638.8 957.0,639.6C961.6,640.3 966.2,641.5 970.9,643.0C975.5,644.4 980.1,646.1 984.8,647.8C989.4,649.6 994.1,651.4 998.7,653.1C1003.4,654.9 1008.0,656.5 1012.6,657.9C1017.2,659.3 1021.8,660.4 1026.4,661.1C1031.0,661.8 1035.5,662.0 1040.0,661.7"/>
<path d="M708.0,755.0C712.5,753.6 717.0,752.9 721.7,752.6C726.3,752.4 731.0,752.6 735.7,753.2C740.4,753.8 745.2,754.7 750.0,755.8C754.8,756.9 759.6,758.3 764.4,759.6C769.2,761.0 774.0,762.4 778.7,763.8C783.5,765.1 788.2,766.4 792.9,767.4C797.6,768.4 802.3,769.2 806.8,769.6C811.4,770.0 815.9,770.0 820.3,769.5C824.7,768.9 829.0,767.9 833.2,766.2C837.4,764.5 841.5,762.3 845.6,759.8C849.6,757.2 853.6,754.3 857.6,751.4C861.6,748.4 865.6,745.3 869.5,742.3C873.5,739.3 877.6,736.5 881.7,733.8C885.8,731.1 889.9,728.6 894.2,726.3C898.5,724.0 902.9,721.9 907.4,720.1C911.9,718.3 916.5,716.8 921.2,715.6C925.9,714.4 930.6,713.6 935.3,713.1C940.0,712.6 944.7,712.5 949.4,712.8C954.1,713.1 958.7,713.8 963.1,715.0C967.6,716.2 972.0,718.0 976.2,720.1C980.5,722.2 984.6,724.7 988.7,727.4C992.8,730.1 996.9,732.9 1001.0,735.7C1005.1,738.5 1009.2,741.2 1013.4,743.6C1017.5,746.0 1021.8,748.2 1026.2,749.8C1030.7,751.5 1035.2,752.6 1040.0,753.0"/>
<path d="M708.0,755.5C712.7,755.4 717.3,756.1 721.8,757.3C726.3,758.4 730.7,760.1 734.9,762.2C739.2,764.2 743.5,766.6 747.7,769.2C751.9,771.7 756.0,774.4 760.2,777.1C764.4,779.7 768.6,782.4 772.9,784.8C777.2,787.2 781.5,789.4 785.8,790.8C790.0,792.2 794.2,792.8 798.3,792.3C802.4,791.8 806.4,790.3 810.3,788.2C814.1,786.1 817.8,783.3 821.4,780.4C824.9,777.4 828.3,774.1 831.7,770.7C835.0,767.3 838.2,763.7 841.4,760.0C844.6,756.3 847.8,752.6 851.0,748.9C854.2,745.2 857.4,741.5 860.7,737.9C863.9,734.4 867.3,731.0 870.8,727.8C874.3,724.6 877.9,721.7 881.7,719.1C885.6,716.5 889.6,714.2 893.8,712.4C898.0,710.6 902.4,709.1 907.0,708.1C911.6,707.1 916.3,706.4 921.0,706.1C925.8,705.7 930.6,705.8 935.5,706.1C940.3,706.4 945.1,707.1 949.9,708.1C954.7,709.0 959.3,710.3 963.9,711.8C968.5,713.3 972.9,715.1 977.1,717.0C981.4,719.0 985.5,721.2 989.5,723.5C993.6,725.7 997.6,728.1 1001.6,730.5C1005.6,732.8 1009.6,735.1 1013.7,737.4C1017.9,739.6 1022.0,741.7 1026.4,743.6C1030.8,745.5 1035.3,747.2 1040.0,748.5"/>
<path d="M708.0,741.5C713.7,741.2 718.7,742.0 723.1,743.6C727.6,745.2 731.5,747.6 735.1,750.5C738.7,753.5 742.0,756.9 745.2,760.6C748.3,764.3 751.3,768.2 754.4,772.1C757.4,776.0 760.5,779.8 763.8,783.3C767.2,786.8 770.7,789.9 774.7,792.5C778.7,795.0 783.1,796.8 787.4,798.9C791.7,800.9 795.6,803.2 799.0,806.4C802.4,809.5 805.4,813.1 808.5,816.9C811.7,820.7 815.0,824.6 818.7,828.2C822.5,831.7 826.6,834.9 830.8,837.2C835.0,839.5 839.4,840.8 843.7,840.6C848.0,840.5 852.2,839.1 856.5,836.9C860.7,834.8 864.8,831.8 868.9,828.5C873.0,825.2 877.0,821.7 881.0,818.2C884.9,814.8 888.8,811.5 892.6,808.3C896.5,805.1 900.3,802.1 904.1,799.3C908.0,796.5 911.8,793.9 915.7,791.5C919.7,789.2 923.6,787.0 927.7,785.2C931.8,783.4 936.1,781.9 940.4,780.7C944.8,779.5 949.3,778.7 954.0,778.2C958.7,777.7 963.6,777.5 968.5,777.3C973.4,777.2 978.4,777.2 983.4,777.0C988.3,776.8 993.2,776.5 997.9,775.9C1002.7,775.3 1007.3,774.3 1011.8,773.0C1016.2,771.7 1020.7,770.2 1025.3,769.1C1029.9,768.1 1034.7,767.4 1040.0,767.8"/>
<path d="M708.0,741.5C713.1,742.3 717.8,743.6 722.2,745.4C726.6,747.2 730.6,749.4 734.4,752.0C738.2,754.6 741.8,757.6 745.1,760.9C748.4,764.1 751.5,767.7 754.4,771.4C757.4,775.2 760.1,779.1 762.8,783.2C765.5,787.3 768.1,791.6 770.6,795.9C773.2,800.2 775.7,804.5 778.2,808.9C780.7,813.2 783.2,817.5 785.9,821.6C788.5,825.7 791.4,829.6 794.6,833.0C797.8,836.4 801.4,839.3 805.4,841.4C809.4,843.5 813.7,844.8 818.0,844.8C822.4,844.8 826.8,843.7 831.2,842.0C835.5,840.2 839.9,837.7 844.2,835.0C848.5,832.3 852.7,829.4 856.8,826.5C860.9,823.6 864.9,820.7 868.8,817.8C872.7,814.9 876.6,812.0 880.4,809.1C884.3,806.3 888.1,803.4 892.0,800.7C895.8,798.0 899.7,795.3 903.7,792.7C907.6,790.2 911.6,787.7 915.7,785.4C919.8,783.1 924.0,780.9 928.3,778.9C932.7,776.8 937.1,775.0 941.6,773.3C946.1,771.5 950.6,770.0 955.2,768.6C959.9,767.2 964.5,765.9 969.2,764.8C973.9,763.7 978.6,762.8 983.3,761.9C988.0,761.1 992.7,760.3 997.5,759.6C1002.2,758.9 1007.0,758.2 1011.7,757.5C1016.4,756.8 1021.2,756.1 1025.9,755.3C1030.6,754.5 1035.3,753.6 1040.0,752.5"/>
<path d="M708.0,763.0C713.3,763.6 718.2,764.8 722.7,766.5C727.2,768.2 731.4,770.3 735.3,772.8C739.3,775.3 742.9,778.2 746.4,781.4C749.8,784.5 753.1,788.0 756.2,791.6C759.3,795.2 762.3,799.0 765.2,802.9C768.1,806.8 771.0,810.8 773.8,814.8C776.7,818.8 779.5,822.8 782.5,826.7C785.4,830.5 788.4,834.3 791.6,838.0C794.7,841.6 798.0,845.0 801.5,848.1C805.0,851.3 808.7,854.1 812.7,856.6C816.7,859.1 820.9,861.3 825.2,863.4C829.6,865.4 834.0,867.3 838.4,869.2C842.8,871.2 847.1,873.1 851.3,875.3C855.5,877.5 859.6,879.8 863.6,882.2C867.6,884.6 871.6,887.0 875.6,889.3C879.6,891.7 883.7,894.0 887.9,896.0C892.1,898.1 896.3,899.9 900.7,901.4C905.1,902.9 909.5,904.0 914.1,904.6C918.7,905.2 923.4,905.2 928.1,904.9C932.9,904.6 937.7,904.0 942.5,903.6C947.4,903.2 952.2,902.9 956.9,903.1C961.7,903.4 966.3,904.1 971.0,905.1C975.6,906.1 980.2,907.4 984.8,908.9C989.3,910.4 993.9,912.1 998.5,913.7C1003.0,915.4 1007.6,917.1 1012.2,918.6C1016.8,920.2 1021.4,921.6 1026.0,922.7C1030.7,923.8 1035.4,924.6 1040.2,925.0"/>
<path d="M708.0,763.5C713.0,764.8 717.6,766.5 722.0,768.5C726.3,770.4 730.4,772.7 734.2,775.3C738.1,777.8 741.7,780.6 745.1,783.7C748.6,786.7 751.8,789.9 754.9,793.3C758.0,796.7 761.0,800.3 763.8,804.0C766.7,807.7 769.5,811.5 772.2,815.4C774.9,819.3 777.6,823.3 780.2,827.3C782.9,831.3 785.5,835.4 788.2,839.4C790.9,843.4 793.7,847.4 796.5,851.3C799.3,855.3 802.2,859.1 805.2,862.9C808.2,866.7 811.4,870.3 814.7,873.7C818.0,877.0 821.5,880.1 825.2,882.8C828.9,885.5 832.7,887.8 836.8,889.5C840.9,891.2 845.2,892.2 849.8,892.9C854.3,893.6 858.9,893.8 863.7,894.0C868.4,894.1 873.2,894.1 878.0,894.3C882.8,894.5 887.5,894.9 892.1,895.5C896.8,896.1 901.4,896.8 906.0,897.7C910.6,898.6 915.1,899.7 919.6,900.9C924.1,902.1 928.6,903.5 933.1,905.0C937.5,906.4 941.9,908.0 946.3,909.7C950.7,911.4 955.1,913.2 959.5,915.0C963.8,916.9 968.2,918.8 972.5,920.7C976.9,922.7 981.3,924.6 985.6,926.4C990.0,928.3 994.4,930.0 998.8,931.6C1003.3,933.2 1007.8,934.7 1012.3,935.9C1016.8,937.0 1021.4,938.0 1026.0,938.6C1030.7,939.3 1035.4,939.6 1040.2,939.5"/>
<path d="M708.0,908.0C712.9,906.9 717.7,907.1 722.5,907.8C727.3,908.6 732.0,909.9 736.8,911.2C741.5,912.5 746.2,913.8 750.9,914.4C755.7,915.1 760.4,915.0 765.2,913.9C770.0,912.8 774.8,911.0 779.6,909.2C784.4,907.4 789.1,905.6 793.6,904.7C798.2,903.7 802.7,903.7 807.0,904.7C811.3,905.8 815.4,907.8 819.6,910.2C823.7,912.6 827.8,915.4 832.0,918.1C836.1,920.8 840.2,923.3 844.5,925.2C848.8,927.0 853.1,928.1 857.6,927.8C862.2,927.6 866.8,926.3 871.6,925.0C876.3,923.7 881.2,922.2 886.0,921.0C890.8,919.8 895.6,918.8 900.3,918.4C905.0,918.0 909.6,918.3 914.0,919.4C918.4,920.5 922.6,922.4 926.7,924.8C930.8,927.2 934.7,930.1 938.5,933.3C942.3,936.5 946.0,940.0 949.7,943.4C953.3,946.9 956.8,950.3 960.3,953.8C963.8,957.2 967.2,960.7 970.6,964.1C974.0,967.5 977.3,970.9 980.6,974.4C983.9,977.8 987.1,981.2 990.4,984.6C993.6,988.1 996.9,991.5 1000.1,994.9C1003.3,998.4 1006.6,1001.8 1009.8,1005.3C1013.1,1008.7 1016.4,1012.2 1019.7,1015.7C1023.0,1019.2 1026.3,1022.7 1029.7,1026.2C1033.1,1029.7 1036.5,1033.3 1040.0,1036.8"/>
<path d="M708.0,908.5C712.7,909.0 717.3,909.7 722.0,910.3C726.6,911.0 731.3,911.7 735.9,912.5C740.6,913.3 745.2,914.1 749.8,915.0C754.4,915.9 759.0,916.9 763.6,917.9C768.2,918.9 772.8,920.0 777.3,921.2C781.8,922.3 786.3,923.7 790.8,925.2C795.3,926.7 799.7,928.6 804.1,930.4C808.6,932.3 813.0,934.3 817.4,936.1C821.8,937.8 826.3,939.4 830.7,940.6C835.2,941.7 839.7,942.5 844.3,942.8C848.8,943.1 853.3,943.0 857.8,942.2C862.3,941.5 866.7,940.1 871.1,938.3C875.6,936.5 880.0,934.3 884.4,932.3C888.9,930.3 893.4,928.5 897.9,927.3C902.5,926.1 907.0,925.4 911.3,925.5C915.7,925.5 919.9,926.2 923.8,927.8C927.8,929.4 931.4,931.8 934.8,934.9C938.2,938.0 941.4,941.6 944.5,945.5C947.6,949.4 950.5,953.6 953.3,957.8C956.2,962.0 959.0,966.1 961.8,970.1C964.6,974.1 967.3,978.0 970.1,981.8C972.8,985.7 975.6,989.4 978.4,993.1C981.2,996.8 984.1,1000.4 987.0,1004.0C989.9,1007.5 992.8,1011.0 995.9,1014.4C998.9,1017.8 1002.1,1021.2 1005.4,1024.5C1008.7,1027.8 1012.1,1031.0 1015.6,1034.1C1019.2,1037.3 1022.9,1040.2 1027.0,1042.6C1031.0,1045.0 1035.3,1046.8 1040.0,1047.7"/>
<path d="M708.0,955.0C712.5,953.6 717.1,952.5 721.8,951.6C726.4,950.7 731.1,950.0 735.9,949.6C740.6,949.1 745.4,949.0 750.1,949.0C754.9,949.1 759.6,949.4 764.3,950.0C769.0,950.5 773.7,951.3 778.3,952.4C782.9,953.5 787.3,954.8 791.7,956.4C796.1,957.9 800.4,959.8 804.5,961.8C808.6,963.9 812.7,966.2 816.5,968.7C820.4,971.2 824.2,974.0 827.8,976.9C831.4,979.8 834.9,982.9 838.2,986.2C841.6,989.5 844.8,992.9 848.0,996.5C851.2,1000.0 854.3,1003.6 857.3,1007.3C860.4,1011.0 863.5,1014.7 866.5,1018.4C869.5,1022.1 872.6,1025.9 875.6,1029.5C878.7,1033.2 881.8,1036.8 885.0,1040.3C888.1,1043.8 891.3,1047.2 894.6,1050.5C898.0,1053.7 901.4,1056.8 904.9,1059.7C908.4,1062.6 912.1,1065.3 915.9,1067.7C919.7,1070.2 923.7,1072.3 927.8,1074.2C932.0,1076.1 936.3,1077.7 940.7,1079.0C945.2,1080.4 949.8,1081.5 954.5,1082.3C959.1,1083.2 963.9,1083.9 968.7,1084.4C973.6,1085.0 978.4,1085.3 983.3,1085.5C988.2,1085.7 993.1,1085.8 998.0,1085.8C1002.8,1085.9 1007.7,1085.8 1012.5,1085.6C1017.2,1085.5 1021.9,1085.3 1026.6,1085.1C1031.2,1084.9 1035.7,1084.8 1040.0,1084.6"/>
<path d="M708.0,955.5C712.8,956.2 717.5,957.1 722.1,958.1C726.7,959.2 731.3,960.5 735.7,961.9C740.2,963.3 744.5,965.0 748.8,966.8C753.1,968.6 757.3,970.6 761.4,972.7C765.5,974.9 769.5,977.2 773.4,979.7C777.4,982.2 781.2,984.8 785.0,987.6C788.7,990.4 792.4,993.4 796.0,996.5C799.6,999.6 803.1,1002.8 806.5,1006.2C809.9,1009.6 813.2,1013.2 816.5,1016.8C819.7,1020.4 823.0,1024.0 826.2,1027.5C829.5,1031.1 832.9,1034.5 836.4,1037.7C839.9,1040.8 843.5,1043.7 847.3,1046.2C851.2,1048.7 855.3,1050.9 859.6,1052.4C863.8,1053.9 868.3,1054.8 872.7,1054.9C877.1,1055.0 881.5,1054.2 885.8,1052.6C890.2,1051.0 894.4,1048.8 898.7,1046.3C903.0,1043.7 907.2,1041.0 911.5,1038.5C915.7,1036.0 920.0,1033.7 924.3,1032.1C928.7,1030.5 933.1,1029.4 937.5,1028.8C941.9,1028.3 946.3,1028.3 950.7,1028.9C955.1,1029.5 959.5,1030.6 963.9,1032.2C968.3,1033.9 972.7,1035.9 977.1,1038.0C981.4,1040.2 985.8,1042.4 990.1,1044.4C994.4,1046.5 998.7,1048.3 1002.9,1049.5C1007.2,1050.7 1011.4,1051.4 1015.5,1051.2C1019.7,1051.1 1023.8,1050.0 1027.9,1047.8C1032.0,1045.5 1036.0,1042.1 1040.0,1037.1"/>
<path d="M1040.3,198.0C1045.0,197.8 1049.7,197.6 1054.4,197.4C1059.1,197.1 1063.8,196.8 1068.5,196.5C1073.1,196.2 1077.8,195.8 1082.5,195.4C1087.2,195.0 1091.9,194.6 1096.6,194.2C1101.3,193.8 1106.0,193.3 1110.7,192.9C1115.4,192.4 1120.1,191.9 1124.7,191.5C1129.4,191.0 1134.1,190.5 1138.8,190.1C1143.5,189.6 1148.2,189.1 1152.9,188.7C1157.6,188.2 1162.3,187.8 1167.0,187.4C1171.6,187.0 1176.3,186.6 1181.0,186.3C1185.7,185.9 1190.4,185.6 1195.1,185.3C1199.8,185.0 1204.5,184.8 1209.2,184.6C1213.9,184.4 1218.6,184.2 1223.3,184.1C1228.0,184.0 1232.7,184.0 1237.4,184.0C1242.1,184.0 1246.9,184.1 1251.6,184.2C1256.3,184.4 1261.0,184.6 1265.7,184.9"/>
<path d="M1040.3,200.1C1045.0,199.9 1049.7,199.7 1054.4,199.5C1059.1,199.2 1063.8,198.9 1068.5,198.6C1073.1,198.3 1077.8,197.9 1082.5,197.5C1087.2,197.1 1091.9,196.7 1096.6,196.3C1101.3,195.9 1106.0,195.4 1110.7,195.0C1115.4,194.5 1120.1,194.0 1124.7,193.6C1129.4,193.1 1134.1,192.6 1138.8,192.2C1143.5,191.7 1148.2,191.2 1152.9,190.8C1157.6,190.3 1162.3,189.9 1167.0,189.5C1171.6,189.1 1176.3,188.7 1181.0,188.4C1185.7,188.0 1190.4,187.7 1195.1,187.4C1199.8,187.1 1204.5,186.9 1209.2,186.7C1213.9,186.5 1218.6,186.3 1223.3,186.2C1228.0,186.1 1232.7,186.1 1237.4,186.1C1242.1,186.1 1246.9,186.2 1251.6,186.3C1256.3,186.5 1261.0,186.7 1265.7,187.0"/>
<path d="M1040.3,245.0C1044.7,243.4 1049.2,241.9 1053.7,240.4C1058.2,238.9 1062.7,237.5 1067.2,236.1C1071.7,234.8 1076.2,233.4 1080.8,232.2C1085.3,230.9 1089.9,229.7 1094.5,228.5C1099.1,227.4 1103.7,226.3 1108.3,225.2C1112.9,224.2 1117.5,223.2 1122.1,222.3C1126.7,221.4 1131.4,220.5 1136.0,219.7C1140.7,218.9 1145.3,218.2 1150.0,217.5C1154.7,216.8 1159.4,216.2 1164.0,215.7C1168.7,215.1 1173.4,214.6 1178.1,214.2C1182.8,213.8 1187.5,213.4 1192.3,213.1C1197.0,212.8 1201.7,212.6 1206.4,212.4C1211.2,212.2 1215.9,212.1 1220.6,212.1C1225.4,212.0 1230.1,212.0 1234.8,212.1C1239.6,212.2 1244.3,212.3 1249.0,212.5C1253.8,212.7 1258.5,212.9 1263.2,213.2C1268.0,213.5 1272.7,213.9 1277.4,214.3"/>
<path d="M1040.3,248.3C1045.0,249.7 1049.8,251.0 1054.7,252.2C1059.6,253.4 1064.5,254.3 1069.4,255.0C1074.3,255.7 1079.1,256.0 1083.9,255.9C1088.7,255.8 1093.5,255.3 1098.1,254.2C1102.7,253.2 1107.2,251.7 1111.7,249.8C1116.1,248.0 1120.5,245.9 1124.9,243.7C1129.3,241.5 1133.7,239.2 1138.1,236.9C1142.5,234.6 1146.9,232.4 1151.4,230.5C1155.9,228.5 1160.4,226.7 1165.0,225.1C1169.6,223.5 1174.2,222.0 1178.9,220.8C1183.5,219.5 1188.2,218.4 1193.0,217.5C1197.7,216.6 1202.5,215.8 1207.3,215.2C1212.1,214.6 1216.9,214.2 1221.8,213.9C1226.6,213.6 1231.5,213.5 1236.4,213.5C1241.3,213.5 1246.2,213.7 1251.2,214.0C1256.1,214.4 1261.0,214.8 1266.0,215.5"/>
<path d="M1040.3,267.8C1045.0,267.5 1049.8,267.1 1054.5,266.6C1059.2,266.1 1063.9,265.4 1068.6,264.7C1073.3,263.9 1078.0,263.1 1082.7,262.2C1087.4,261.3 1092.0,260.3 1096.7,259.3C1101.4,258.3 1106.0,257.2 1110.7,256.0C1115.3,254.9 1120.0,253.8 1124.6,252.6C1129.3,251.4 1133.9,250.2 1138.6,249.1C1143.2,247.9 1147.9,246.7 1152.5,245.6C1157.2,244.5 1161.8,243.4 1166.5,242.3C1171.1,241.3 1175.8,240.3 1180.5,239.4C1185.1,238.4 1189.8,237.6 1194.5,236.8C1199.2,236.1 1203.9,235.4 1208.6,234.8C1213.3,234.3 1218.1,233.9 1222.8,233.6C1227.6,233.3 1232.3,233.1 1237.1,233.1C1241.9,233.1 1246.6,233.2 1251.5,233.6C1256.3,233.9 1261.1,234.4 1266.0,235.1"/>
<path d="M1040.3,268.3C1045.0,267.9 1049.7,267.4 1054.3,266.8C1059.0,266.2 1063.7,265.5 1068.4,264.7C1073.0,264.0 1077.7,263.2 1082.3,262.4C1087.0,261.5 1091.6,260.7 1096.3,259.8C1100.9,259.0 1105.6,258.1 1110.2,257.3C1114.9,256.4 1119.6,255.6 1124.2,254.8C1128.9,254.0 1133.5,253.3 1138.2,252.7C1142.9,252.0 1147.6,251.4 1152.3,250.9C1156.9,250.3 1161.6,249.9 1166.3,249.5C1171.0,249.1 1175.8,248.7 1180.5,248.4C1185.2,248.1 1189.9,247.9 1194.6,247.7C1199.4,247.6 1204.1,247.5 1208.8,247.4C1213.6,247.3 1218.3,247.3 1223.0,247.4C1227.8,247.4 1232.5,247.5 1237.3,247.6C1242.0,247.8 1246.8,247.9 1251.5,248.2C1256.3,248.4 1261.1,248.7 1265.8,249.0"/>
<path d="M1040.3,661.3C1045.1,661.5 1049.9,661.4 1054.7,661.2C1059.4,661.0 1064.1,660.6 1068.9,660.0C1073.6,659.4 1078.3,658.7 1083.0,657.9C1087.7,657.1 1092.4,656.1 1097.0,655.1C1101.7,654.0 1106.4,652.9 1111.0,651.7C1115.7,650.5 1120.4,649.3 1125.0,648.0C1129.6,646.7 1134.3,645.4 1138.9,644.0C1143.6,642.7 1148.2,641.3 1152.9,640.0C1157.5,638.7 1162.1,637.4 1166.8,636.2C1171.4,634.9 1176.1,633.7 1180.8,632.6C1185.4,631.5 1190.1,630.5 1194.8,629.6C1199.4,628.7 1204.1,627.8 1208.8,627.2C1213.5,626.5 1218.2,626.0 1223.0,625.6C1227.7,625.2 1232.4,625.0 1237.2,625.0C1241.9,625.0 1246.7,625.2 1251.5,625.6C1256.3,626.0 1261.1,626.6 1266.0,627.5"/>
<path d="M1040.3,666.3C1045.2,666.7 1049.9,666.9 1054.7,667.0C1059.5,667.0 1064.2,666.9 1068.9,666.7C1073.6,666.4 1078.3,666.0 1083.0,665.5C1087.6,665.0 1092.2,664.3 1096.9,663.5C1101.5,662.8 1106.1,661.9 1110.6,660.9C1115.2,659.9 1119.8,658.8 1124.3,657.6C1128.8,656.5 1133.3,655.2 1137.8,653.9C1142.4,652.6 1146.8,651.2 1151.3,649.7C1155.8,648.3 1160.3,646.8 1164.7,645.3C1169.2,643.8 1173.6,642.2 1178.1,640.6C1182.5,639.0 1187.0,637.4 1191.4,635.9C1195.8,634.3 1200.3,632.9 1204.8,631.6C1209.3,630.3 1213.8,629.1 1218.4,628.3C1222.9,627.4 1227.6,626.9 1232.3,626.7C1237.0,626.5 1241.7,626.8 1246.5,627.3C1251.3,627.9 1256.1,628.7 1260.7,629.6C1265.3,630.5 1269.8,631.5 1274.0,632.5"/>
<path d="M1040.1,747.8C1044.4,746.4 1048.7,744.8 1053.1,743.0C1057.4,741.2 1061.8,739.3 1066.3,737.3C1070.7,735.3 1075.2,733.3 1079.7,731.2C1084.2,729.1 1088.7,727.0 1093.2,725.0C1097.8,723.0 1102.4,721.0 1106.9,719.2C1111.5,717.4 1116.1,715.7 1120.7,714.3C1125.3,712.8 1129.9,711.5 1134.5,710.5C1139.2,709.6 1143.8,708.8 1148.4,708.5C1153.0,708.1 1157.5,708.1 1162.1,708.5C1166.7,708.9 1171.3,709.8 1175.8,711.1C1180.3,712.4 1184.8,714.2 1189.3,716.3C1193.8,718.3 1198.3,720.6 1202.8,722.8C1207.3,725.0 1211.8,727.2 1216.3,729.0C1220.8,730.8 1225.4,732.3 1229.9,733.2C1234.5,734.0 1239.0,734.3 1243.6,733.9C1248.2,733.5 1252.8,732.3 1257.3,730.2C1261.9,728.1 1266.5,725.2 1271.1,721.1"/>
<path d="M1040.1,749.5C1044.8,750.2 1049.5,750.6 1054.2,750.8C1058.9,751.0 1063.6,751.1 1068.3,751.0C1073.0,750.9 1077.7,750.7 1082.3,750.4C1087.0,750.1 1091.7,749.7 1096.3,749.2C1101.0,748.7 1105.7,748.1 1110.3,747.5C1115.0,746.9 1119.7,746.2 1124.3,745.6C1129.0,744.9 1133.6,744.3 1138.3,743.7C1143.0,743.0 1147.7,742.4 1152.3,741.9C1157.0,741.3 1161.7,740.9 1166.4,740.5C1171.0,740.0 1175.7,739.7 1180.4,739.4C1185.1,739.1 1189.8,738.9 1194.5,738.7C1199.2,738.5 1203.9,738.4 1208.6,738.3C1213.3,738.3 1218.0,738.3 1222.7,738.3C1227.4,738.3 1232.1,738.4 1236.8,738.5C1241.5,738.6 1246.3,738.8 1251.0,739.0C1255.7,739.2 1260.4,739.4 1265.2,739.7"/>
<path d="M1040.1,752.4C1044.9,753.5 1049.6,754.4 1054.3,754.9C1059.0,755.5 1063.7,755.9 1068.4,756.0C1073.1,756.1 1077.8,756.0 1082.4,755.8C1087.1,755.5 1091.7,755.1 1096.4,754.6C1101.0,754.1 1105.7,753.4 1110.3,752.7C1115.0,752.1 1119.6,751.3 1124.2,750.5C1128.9,749.7 1133.5,749.0 1138.2,748.2C1142.8,747.4 1147.5,746.7 1152.1,746.1C1156.8,745.4 1161.5,744.8 1166.1,744.4C1170.8,743.9 1175.5,743.5 1180.2,743.1C1184.9,742.8 1189.6,742.5 1194.3,742.3C1199.0,742.2 1203.7,742.0 1208.4,741.9C1213.2,741.9 1217.9,741.8 1222.6,741.9C1227.3,741.9 1232.0,741.9 1236.8,742.0C1241.5,742.1 1246.2,742.3 1251.0,742.5C1255.7,742.6 1260.4,742.8 1265.2,743.0"/>
<path d="M1040.1,767.8C1045.1,766.7 1050.1,765.9 1055.0,765.2C1059.9,764.5 1064.9,764.0 1069.8,763.7C1074.7,763.4 1079.6,763.3 1084.5,763.4C1089.4,763.5 1094.3,763.7 1099.2,764.1C1104.1,764.6 1109.0,765.1 1113.9,765.8C1118.7,766.5 1123.6,767.3 1128.5,768.0C1133.4,768.8 1138.3,769.6 1143.1,770.3C1148.0,771.0 1152.9,771.7 1157.8,772.3C1162.8,772.8 1167.7,773.4 1172.6,773.8C1177.5,774.3 1182.4,774.7 1187.4,775.0C1192.3,775.3 1197.3,775.6 1202.2,775.8C1207.1,776.0 1212.1,776.2 1217.0,776.3C1222.0,776.5 1226.9,776.5 1231.9,776.5C1236.8,776.6 1241.8,776.5 1246.8,776.5C1251.7,776.4 1256.7,776.3 1261.6,776.1C1266.6,776.0 1271.5,775.8 1276.5,775.5"/>
<path d="M1040.1,925.1C1044.6,924.0 1049.0,922.5 1053.4,920.9C1057.8,919.3 1062.2,917.4 1066.5,915.3C1070.8,913.3 1075.1,911.0 1079.3,908.6C1083.5,906.2 1087.6,903.7 1091.7,901.0C1095.8,898.3 1099.9,895.6 1103.8,892.7C1107.8,889.8 1111.7,886.9 1115.5,884.0C1119.3,881.0 1123.1,878.0 1126.8,874.9C1130.4,871.9 1134.0,868.8 1137.6,865.7C1141.1,862.6 1144.6,859.4 1148.1,856.2C1151.5,853.0 1155.0,849.7 1158.3,846.4C1161.7,843.1 1165.0,839.8 1168.3,836.4C1171.7,833.0 1174.9,829.6 1178.2,826.1C1181.5,822.7 1184.7,819.1 1188.0,815.6C1191.2,812.0 1194.5,808.4 1197.8,804.7C1201.0,801.1 1204.2,797.3 1207.6,793.7C1211.0,790.2 1214.6,786.9 1218.7,784.4C1222.7,781.9 1227.3,780.1 1232.0,779.5C1236.7,778.8 1241.6,779.2 1246.1,780.9C1250.7,782.7 1254.9,785.6 1258.3,790.1"/>
<path d="M1040.1,938.2C1044.8,939.7 1049.3,941.5 1053.7,943.4C1058.0,945.3 1062.3,947.4 1066.4,949.7C1070.5,952.0 1074.4,954.5 1078.3,957.1C1082.2,959.7 1085.9,962.4 1089.5,965.3C1093.1,968.2 1096.6,971.3 1100.1,974.4C1103.5,977.6 1106.8,980.9 1110.0,984.3C1113.2,987.6 1116.3,991.1 1119.3,994.7C1122.4,998.3 1125.3,1002.0 1128.2,1005.8C1131.1,1009.5 1133.9,1013.3 1136.6,1017.2C1139.3,1021.1 1142.0,1025.1 1144.6,1029.1C1147.2,1033.1 1149.7,1037.1 1152.2,1041.2C1154.7,1045.2 1157.1,1049.3 1159.5,1053.5C1161.9,1057.6 1164.3,1061.8 1166.6,1065.9C1168.9,1070.1 1171.2,1074.3 1173.5,1078.5C1175.8,1082.7 1178.0,1087.0 1180.2,1091.2C1182.5,1095.4 1184.7,1099.7 1186.9,1103.9C1189.1,1108.1 1191.3,1112.4 1193.5,1116.6C1195.7,1120.8 1197.9,1125.1 1200.2,1129.3C1202.4,1133.5 1204.6,1137.7 1206.9,1141.9C1209.1,1146.1 1211.4,1150.2 1213.7,1154.4C1216.0,1158.5 1218.3,1162.6 1220.7,1166.7C1223.1,1170.8 1225.5,1174.9 1227.9,1178.9C1230.4,1182.9 1232.9,1186.9 1235.4,1190.8"/>
<path d="M1040.1,1037.3C1044.2,1035.2 1048.1,1032.9 1052.0,1030.4C1055.9,1027.9 1059.7,1025.2 1063.4,1022.4C1067.2,1019.6 1070.9,1016.7 1074.5,1013.7C1078.2,1010.7 1081.8,1007.5 1085.4,1004.4C1089.0,1001.2 1092.5,998.0 1096.1,994.8C1099.7,991.6 1103.3,988.4 1106.9,985.2C1110.4,982.0 1114.1,978.9 1117.7,975.9C1121.4,972.9 1125.1,969.9 1128.8,967.1C1132.6,964.3 1136.4,961.6 1140.3,959.1C1144.2,956.6 1148.1,954.3 1152.2,952.2C1156.3,950.0 1160.4,948.2 1164.7,946.5C1169.0,944.9 1173.3,943.5 1177.8,942.4C1182.3,941.2 1186.8,940.2 1191.4,939.4C1196.0,938.7 1200.7,938.1 1205.4,937.6C1210.1,937.2 1214.9,936.9 1219.6,936.8C1224.4,936.6 1229.2,936.6 1234.0,936.6C1238.8,936.7 1243.6,936.8 1248.4,937.1C1253.2,937.3 1258.0,937.6 1262.7,937.9C1267.5,938.2 1272.2,938.6 1276.8,939.0"/>
<path d="M1040.1,1039.0C1045.6,1040.5 1050.7,1041.4 1055.6,1041.7C1060.6,1042.0 1065.2,1041.7 1069.6,1040.9C1074.1,1040.2 1078.3,1038.9 1082.3,1037.3C1086.4,1035.6 1090.2,1033.5 1093.9,1031.2C1097.6,1028.8 1101.1,1026.1 1104.6,1023.1C1108.0,1020.2 1111.3,1017.0 1114.5,1013.7C1117.8,1010.3 1120.9,1006.8 1124.0,1003.3C1127.1,999.7 1130.2,996.0 1133.3,992.3C1136.3,988.6 1139.4,984.8 1142.5,981.1C1145.6,977.4 1148.7,973.7 1151.9,970.1C1155.1,966.5 1158.4,963.0 1161.8,959.7C1165.2,956.3 1168.7,953.1 1172.4,950.1C1176.0,947.1 1179.9,944.3 1183.8,941.8C1187.8,939.2 1191.8,936.9 1196.0,934.9C1200.2,932.9 1204.5,931.1 1208.9,929.7C1213.2,928.3 1217.7,927.1 1222.2,926.4C1226.7,925.6 1231.3,925.1 1235.9,925.1C1240.5,925.0 1245.1,925.4 1249.8,926.1C1254.4,926.8 1259.1,928.0 1263.7,929.6C1268.4,931.2 1273.0,933.2 1277.6,935.8"/>
<path d="M1040.1,1048.7C1044.1,1051.0 1047.9,1053.7 1051.6,1056.6C1055.4,1059.5 1059.0,1062.6 1062.5,1065.9C1065.9,1069.2 1069.3,1072.7 1072.6,1076.3C1075.9,1079.9 1079.1,1083.7 1082.1,1087.6C1085.2,1091.5 1088.1,1095.5 1091.0,1099.5C1093.8,1103.6 1096.6,1107.7 1099.2,1111.8C1101.9,1116.0 1104.4,1120.1 1106.8,1124.3C1109.3,1128.4 1111.6,1132.6 1113.8,1136.8C1116.0,1141.0 1118.1,1145.3 1120.1,1149.6C1122.0,1153.9 1123.8,1158.2 1125.5,1162.7C1127.1,1167.2 1128.6,1171.7 1129.9,1176.4C1131.2,1181.0 1132.4,1185.8 1133.4,1190.7C1134.3,1195.6 1135.1,1200.6 1136.2,1205.5C1137.3,1210.3 1138.8,1214.9 1141.1,1219.0C1143.4,1223.1 1146.8,1226.6 1150.7,1229.3C1154.7,1232.0 1159.3,1234.0 1164.0,1234.9C1168.6,1235.9 1173.3,1235.8 1177.8,1234.9C1182.3,1233.9 1186.6,1232.1 1190.9,1229.7C1195.2,1227.3 1199.3,1224.4 1203.3,1221.1C1207.4,1217.9 1211.2,1214.3 1215.0,1210.7C1218.7,1207.1 1222.3,1203.4 1225.7,1200.0C1229.1,1196.6 1232.3,1193.5 1235.4,1190.8"/>
<path d="M1040.1,1084.5C1045.2,1084.9 1049.8,1083.6 1054.3,1081.7C1058.8,1079.7 1063.1,1077.1 1067.5,1074.7C1071.9,1072.2 1076.4,1070.1 1081.2,1068.8C1086.0,1067.5 1090.9,1067.0 1095.7,1067.0C1100.5,1067.1 1105.2,1067.9 1109.7,1069.2C1114.2,1070.6 1118.4,1072.5 1122.6,1074.8C1126.7,1077.2 1130.7,1080.0 1134.5,1083.1C1138.3,1086.2 1142.0,1089.5 1145.7,1093.1C1149.3,1096.6 1152.8,1100.2 1156.3,1103.9C1159.8,1107.5 1163.2,1111.1 1166.6,1114.7C1170.0,1118.3 1173.4,1121.9 1176.7,1125.4C1180.0,1129.0 1183.3,1132.5 1186.6,1136.0C1189.9,1139.6 1193.2,1143.1 1196.4,1146.6C1199.7,1150.2 1202.9,1153.7 1206.1,1157.3C1209.4,1160.9 1212.6,1164.5 1215.8,1168.2C1219.1,1171.9 1222.3,1175.6 1225.6,1179.3C1228.8,1183.1 1232.1,1186.9 1235.4,1190.8"/>
</g></g>
<g clip-path="url(#cb)" fill="none">
<line x1="1309.7" x2="1702.4" y1="1191.19" y2="1191.19" stroke="#808080" stroke-width="2.08"/>
<path d="M1250.0,179.1 L1400.0,185.5 L1830.0,191.8 L2600.0,198.1 L2600.0,204.4 L2600.0,210.7 L2600.0,217.1 L1850.0,223.4 L1690.0,229.7 L1495.9,236.0 L1598.0,242.3 L1700.0,248.7 L2500.0,255.0 L2500.0,261.3 L1830.0,267.6 L1625.0,273.9 L1417.0,280.3 L1382.0,286.6 L1310.0,292.9 L1310.0,299.2 L1310.0,305.5 L1310.0,311.9 L1310.0,318.2 L1310.0,324.5 L1310.0,330.8 L1310.0,337.1 L1310.0,343.5 L1310.0,349.8 L1310.0,356.1 L1310.0,362.4 L1310.0,368.7 L1310.0,375.1 L1310.0,381.4 L1310.0,387.7 L1310.0,394.0 L1310.0,400.3 L1310.0,406.7 L1310.0,413.0 L1310.0,419.3 L1310.0,425.6 L1310.0,431.9 L1310.0,438.3 L1310.0,444.6 L1310.0,450.9 L1310.0,457.2 L1310.0,463.5 L1310.0,469.9 L1310.0,476.2 L1310.0,482.5 L1310.0,488.8 L1310.0,495.1 L1310.0,501.5 L1310.0,507.8 L1310.0,514.1 L1310.0,520.4 L1310.0,526.7 L1310.0,533.1 L1310.0,539.4 L1310.0,545.7 L1310.0,552.0 L1310.0,558.3 L1310.0,564.7 L1310.0,571.0 L1310.0,577.3 L1310.0,583.6 L1310.0,589.9 L1310.0,596.3 L1310.0,602.6 L1310.7,608.9 L1310.7,615.2 L1310.7,621.5 L1310.7,627.9 L1310.7,634.2 L1310.7,640.5 L1310.7,646.8 L1310.8,653.1 L1311.0,659.5 L1311.0,665.8 L1311.1,672.1 L1311.2,678.4 L1311.2,684.7 L1311.4,691.1 L1311.7,697.4 L1311.9,703.7 L1312.4,710.0 L1313.6,716.3 L1318.4,722.7 L1318.8,729.0 L1318.4,735.3 L1317.2,741.6 L1315.5,747.9 L1320.3,754.3 L1325.1,760.6 L1323.1,766.9 L1324.3,773.2 L1325.1,779.5 L1321.7,785.9 L1319.6,792.2 L1320.3,798.5 L1321.2,804.8 L1317.2,811.1 L1318.8,817.5 L1323.6,823.8 L1319.6,830.1 L1317.9,836.4 L1316.5,842.7 L1317.9,849.1 L1321.2,855.4 L1316.5,861.7 L1314.8,868.0 L1315.5,874.3 L1319.7,880.7 L1321.0,887.0 L1323.0,893.3 L1326.3,899.6 L1352.3,905.9 L1353.0,912.3 L1344.6,918.6 L1354.7,924.9 L1339.7,931.2 L1336.0,937.5 L1337.4,943.9 L1339.0,950.2 L1343.0,956.5 L1347.0,962.8 L1341.7,969.1 L1342.0,975.5 L1341.7,981.8 L1343.0,988.1 L1334.3,994.4 L1329.4,1000.7 L1339.0,1007.1 L1332.3,1013.4 L1331.3,1019.7 L1332.0,1026.0 L1331.0,1032.3 L1329.4,1038.7 L1323.7,1045.0 L1331.0,1051.3 L1325.4,1057.6 L1323.7,1063.9 L1320.3,1070.3 L1320.2,1076.6 L1329.0,1082.9 L1323.0,1089.2 L1320.3,1095.5 L1318.7,1101.9 L1317.7,1108.2 L1317.0,1114.5 L1316.3,1120.8 L1315.7,1127.1 L1315.3,1133.5 L1315.0,1139.8 L1314.7,1146.1 L1314.3,1152.4 L1313.7,1158.7 L1313.0,1165.1 L1312.3,1171.4 L1311.7,1177.7 L1311.0,1184.0 L1310.7,1190.3 L1310.7,1196.7 L1311.0,1203.0 L1312.0,1209.3 L1313.7,1215.6 L1315.0,1221.9 L1316.3,1228.3 L1320.6,1234.6 L1310.0,1240.9 L1310.0,1247.2 L1310.0,1253.5 L1310.0,1259.9 L1310.0,1266.2 L1310.0,1272.5 L1310.0,1278.8 L1310.0,1285.1 L1310.0,1291.5 L1310.0,1297.8 L1310.0,1304.1 L1310.0,1310.4 L1310.0,1316.7 L1310.0,1323.1 L1310.0,1329.4 L1310.0,1335.7 L1310.0,1342.0" stroke="#ff0000" stroke-opacity="0.8" stroke-width="5.0" stroke-linejoin="round"/>
<path d="M1310.0,179.1 L1316.5,185.5 L1395.0,191.8 L1417.5,198.1 L1382.0,204.4 L1368.0,210.7 L1400.0,217.1 L1431.0,223.4 L1355.0,229.7 L1332.5,236.0 L1332.2,242.3 L1359.0,248.7 L1369.5,255.0 L1356.0,261.3 L1374.0,267.6 L1338.0,273.9 L1321.5,280.3 L1318.5,286.6 L1310.0,292.9 L1310.0,299.2 L1310.0,305.5 L1310.0,311.9 L1310.0,318.2 L1310.0,324.5 L1310.0,330.8 L1310.0,337.1 L1310.0,343.5 L1310.0,349.8 L1310.0,356.1 L1310.0,362.4 L1310.0,368.7 L1310.0,375.1 L1310.0,381.4 L1310.0,387.7 L1310.0,394.0 L1310.0,400.3 L1310.0,406.7 L1310.0,413.0 L1310.0,419.3 L1310.0,425.6 L1310.0,431.9 L1310.0,438.3 L1310.0,444.6 L1310.0,450.9 L1310.0,457.2 L1310.0,463.5 L1310.0,469.9 L1310.0,476.2 L1310.0,482.5 L1310.0,488.8 L1310.0,495.1 L1310.0,501.5 L1310.0,507.8 L1310.0,514.1 L1310.0,520.4 L1310.0,526.7 L1310.0,533.1 L1310.0,539.4 L1310.0,545.7 L1310.0,552.0 L1310.0,558.3 L1310.0,564.7 L1310.0,571.0 L1310.0,577.3 L1310.0,583.6 L1310.0,589.9 L1310.0,596.3 L1310.0,602.6 L1310.0,608.9 L1354.5,615.2 L1382.0,621.5 L1393.2,627.9 L1430.9,634.2 L1487.1,640.5 L1642.4,646.8 L1557.6,653.1 L1491.9,659.5 L1439.3,665.8 L1387.5,672.1 L1380.3,678.4 L1382.0,684.7 L1397.0,691.1 L1446.5,697.4 L1470.4,703.7 L1540.8,710.0 L1499.0,716.3 L1556.4,722.7 L1568.3,729.0 L1607.7,735.3 L1648.3,741.6 L1570.0,747.9 L1671.7,754.3 L1645.2,760.6 L1756.8,766.9 L1650.7,773.2 L1622.1,779.5 L1567.1,785.9 L1473.9,792.2 L1454.8,798.5 L1435.7,804.8 L1415.4,811.1 L1454.8,817.5 L1491.9,823.8 L1457.2,830.1 L1420.2,836.4 L1411.4,842.7 L1426.2,849.1 L1448.9,855.4 L1398.7,861.7 L1384.4,868.0 L1376.5,874.3 L1400.3,880.7 L1403.0,887.0 L1411.0,893.3 L1434.3,899.6 L1555.6,905.9 L1543.2,912.3 L1513.0,918.6 L1543.7,924.9 L1468.3,931.2 L1453.0,937.5 L1457.0,943.9 L1473.7,950.2 L1516.3,956.5 L1508.3,962.8 L1463.7,969.1 L1455.0,975.5 L1446.3,981.8 L1446.3,988.1 L1411.0,994.4 L1391.0,1000.7 L1429.7,1007.1 L1400.3,1013.4 L1394.3,1019.7 L1397.0,1026.0 L1391.7,1032.3 L1386.3,1038.7 L1364.0,1045.0 L1390.3,1051.3 L1367.7,1057.6 L1364.3,1063.9 L1351.0,1070.3 L1349.0,1076.6 L1384.0,1082.9 L1359.0,1089.2 L1347.7,1095.5 L1342.0,1101.9 L1339.7,1108.2 L1336.6,1114.5 L1334.7,1120.8 L1332.3,1127.1 L1330.3,1133.5 L1329.4,1139.8 L1327.7,1146.1 L1328.6,1152.4 L1324.6,1158.7 L1321.0,1165.1 L1319.7,1171.4 L1318.0,1177.7 L1316.6,1184.0 L1316.3,1190.3 L1316.7,1196.7 L1317.4,1203.0 L1319.7,1209.3 L1325.0,1215.6 L1328.3,1221.9 L1329.0,1228.3 L1346.3,1234.6 L1310.0,1240.9 L1310.0,1247.2 L1310.0,1253.5 L1310.0,1259.9 L1310.0,1266.2 L1310.0,1272.5 L1310.0,1278.8 L1310.0,1285.1 L1310.0,1291.5 L1310.0,1297.8 L1310.0,1304.1 L1310.0,1310.4 L1310.0,1316.7 L1310.0,1323.1 L1310.0,1329.4 L1310.0,1335.7 L1310.0,1342.0" stroke="#008000" stroke-opacity="0.7" stroke-width="5.0" stroke-linejoin="round"/>
</g>
<rect x="1465.2" y="202.8" width="213.70000000000005" height="131.2" rx="9" ry="9" fill="#fff" fill-opacity="0.8" stroke="#ccc" stroke-opacity="0.8" stroke-width="3.9"/>
<line x1="1482.1" x2="1578" y1="240.4" y2="240.4" stroke="#ff0000" stroke-opacity="0.8" stroke-width="5.0"/>
<line x1="1482.1" x2="1578" y1="290.5" y2="290.5" stroke="#008000" stroke-opacity="0.7" stroke-width="5.0"/>
<g font-family="'DejaVu Sans', 'Liberation Sans', sans-serif" font-size="45.83" fill="#000">
<text x="1613" y="255.7">Ni</text>
<text x="1613" y="305.6">Te</text>
</g>
<g fill="none" stroke="#000" stroke-width="3.33" stroke-linecap="square" shape-rendering="auto">
<rect x="180.7" y="180.3" width="1054.6" height="1155.3"/>
<rect x="1309.7" y="180.3" width="392.70000000000005" height="1155.3"/>
</g>
<g stroke="#000" stroke-width="3.33" stroke-linecap="butt">
<line x1="166.10" x2="180.7" y1="1335.60" y2="1335.60"/>
<line x1="1295.10" x2="1309.7" y1="1335.60" y2="1335.60"/>
<line x1="166.10" x2="180.7" y1="1191.19" y2="1191.19"/>
<line x1="1295.10" x2="1309.7" y1="1191.19" y2="1191.19"/>
<line x1="166.10" x2="180.7" y1="1046.77" y2="1046.77"/>
<line x1="1295.10" x2="1309.7" y1="1046.77" y2="1046.77"/>
<line x1="166.10" x2="180.7" y1="902.36" y2="902.36"/>
<line x1="1295.10" x2="1309.7" y1="902.36" y2="902.36"/>
<line x1="166.10" x2="180.7" y1="757.95" y2="757.95"/>
<line x1="1295.10" x2="1309.7" y1="757.95" y2="757.95"/>
<line x1="166.10" x2="180.7" y1="613.54" y2="613.54"/>
<line x1="1295.10" x2="1309.7" y1="613.54" y2="613.54"/>
<line x1="166.10" x2="180.7" y1="469.12" y2="469.12"/>
<line x1="1295.10" x2="1309.7" y1="469.12" y2="469.12"/>
<line x1="166.10" x2="180.7" y1="324.71" y2="324.71"/>
<line x1="1295.10" x2="1309.7" y1="324.71" y2="324.71"/>
<line x1="166.10" x2="180.7" y1="180.30" y2="180.30"/>
<line x1="1295.10" x2="1309.7" y1="180.30" y2="180.30"/>
<line x1="180.7" x2="180.7" y1="1335.6" y2="1350.20"/>
<line x1="513.2" x2="513.2" y1="1335.6" y2="1350.20"/>
<line x1="708.2" x2="708.2" y1="1335.6" y2="1350.20"/>
<line x1="1040.3" x2="1040.3" y1="1335.6" y2="1350.20"/>
<line x1="1235.3" x2="1235.3" y1="1335.6" y2="1350.20"/>
<line x1="1309.70" x2="1309.70" y1="1335.6" y2="1350.20"/>
<line x1="1440.60" x2="1440.60" y1="1335.6" y2="1350.20"/>
<line x1="1571.50" x2="1571.50" y1="1335.6" y2="1350.20"/>
<line x1="1702.40" x2="1702.40" y1="1335.6" y2="1350.20"/>
</g>
<g font-family="'DejaVu Sans', 'Liberation Sans', sans-serif" font-size="54.17" fill="#000">
<text x="152.5" y="1356.10" text-anchor="end">-1</text>
<text x="152.5" y="1211.69" text-anchor="end">0</text>
<text x="152.5" y="1067.27" text-anchor="end">1</text>
<text x="152.5" y="922.86" text-anchor="end">2</text>
<text x="152.5" y="778.45" text-anchor="end">3</text>
<text x="152.5" y="634.04" text-anchor="end">4</text>
<text x="152.5" y="489.62" text-anchor="end">5</text>
<text x="152.5" y="345.21" text-anchor="end">6</text>
<text x="152.5" y="200.80" text-anchor="end">7</text>
<text x="180.7" y="1403.0" text-anchor="middle">Γ</text>
<text x="513.2" y="1403.0" text-anchor="middle">X</text>
<text x="708.2" y="1403.0" text-anchor="middle">S</text>
<text x="1040.3" y="1403.0" text-anchor="middle">Y</text>
<text x="1235.3" y="1403.0" text-anchor="middle">Γ</text>
<text x="1309.70" y="1405.3" text-anchor="middle">0.0</text>
<text x="1440.60" y="1405.3" text-anchor="middle">2.0</text>
<text x="1571.50" y="1405.3" text-anchor="middle">4.0</text>
<text x="1702.40" y="1405.3" text-anchor="middle">6.0</text>
<text x="708.00" y="1471.7" text-anchor="middle">Phonon band structure</text>
<text x="1506.05" y="1474" text-anchor="middle">Projected DOS</text>
<text transform="translate(68,757.95) rotate(-90)" text-anchor="middle">Frequency (Thz)</text>
</g>
</svg>
</body></html>
